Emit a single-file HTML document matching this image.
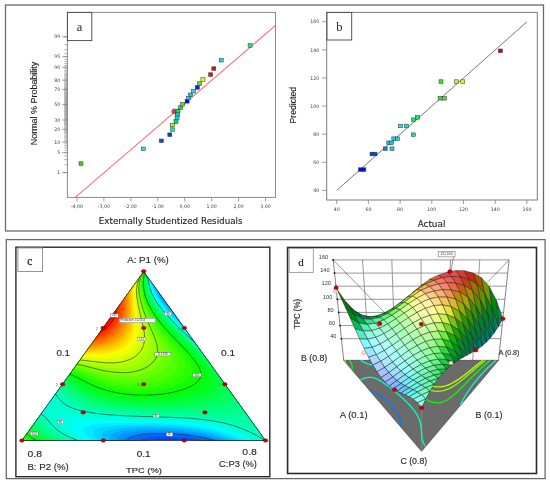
<!DOCTYPE html><html><head><meta charset="utf-8"><style>html,body{margin:0;padding:0;background:#fff;width:550px;height:485px;overflow:hidden}svg{display:block}.tk{font-family:"DejaVu Sans",sans-serif;font-size:4.7px;fill:#444}.ax{font-family:"DejaVu Sans",sans-serif;font-size:8.8px;fill:#1a1a1a;stroke:#1a1a1a;stroke-width:0.12}.axv{font-family:"Liberation Sans",Arial,sans-serif;font-size:8.4px;fill:#1a1a1a;stroke:#1a1a1a;stroke-width:0.12}.lab{font-family:"Liberation Serif","Times New Roman",serif;fill:#222}.tc{font-family:"Liberation Sans",Arial,sans-serif;font-size:9.6px;fill:#2a2a2a;stroke:#2a2a2a;stroke-width:0.15}.tiny{font-family:"Liberation Sans",Arial,sans-serif;font-size:3.2px;fill:#444}.tk5{font-family:"Liberation Sans",Arial,sans-serif;font-size:5.6px;fill:#333}.lbl{font-family:"Liberation Sans",Arial,sans-serif;font-size:2.9px;fill:#333}</style></head><body>
<svg width="550" height="485" viewBox="0 0 550 485">
<rect width="550" height="485" fill="#fff"/>
<rect x="5.5" y="5" width="538" height="226" fill="none" stroke="#6a6a6a" stroke-width="1.3"/>
<rect x="6.3" y="239.6" width="538.8" height="239" fill="none" stroke="#6a6a6a" stroke-width="1.3"/>
<rect x="67.4" y="12.4" width="208.1" height="185.0" fill="none" stroke="#8a8a8a" stroke-width="1"/>
<path d="M64.3 172.63H67.4 M64.3 164.67H67.4 M64.3 159.62H67.4 M64.3 155.82H67.4 M64.3 152.73H67.4 M64.3 150.10H67.4 M64.3 147.79H67.4 M64.3 145.73H67.4 M64.3 143.85H67.4 M64.3 142.12H67.4 M64.3 140.51H67.4 M64.3 139.01H67.4 M64.3 137.59H67.4 M64.3 136.25H67.4 M64.3 134.96H67.4 M64.3 133.74H67.4 M64.3 132.56H67.4 M64.3 131.43H67.4 M64.3 130.33H67.4 M64.3 129.28H67.4 M64.3 128.25H67.4 M64.3 127.25H67.4 M64.3 126.27H67.4 M64.3 125.32H67.4 M64.3 124.40H67.4 M64.3 123.49H67.4 M64.3 122.59H67.4 M64.3 121.72H67.4 M64.3 120.86H67.4 M64.3 120.01H67.4 M64.3 119.18H67.4 M64.3 118.36H67.4 M64.3 117.55H67.4 M64.3 116.74H67.4 M64.3 115.95H67.4 M64.3 115.17H67.4 M64.3 114.39H67.4 M64.3 113.62H67.4 M64.3 112.86H67.4 M64.3 112.10H67.4 M64.3 111.34H67.4 M64.3 110.60H67.4 M64.3 109.85H67.4 M64.3 109.11H67.4 M64.3 108.37H67.4 M64.3 107.63H67.4 M64.3 106.90H67.4 M64.3 106.16H67.4 M64.3 105.43H67.4 M64.3 104.70H67.4 M64.3 103.97H67.4 M64.3 103.24H67.4 M64.3 102.50H67.4 M64.3 101.77H67.4 M64.3 101.03H67.4 M64.3 100.29H67.4 M64.3 99.55H67.4 M64.3 98.80H67.4 M64.3 98.06H67.4 M64.3 97.30H67.4 M64.3 96.54H67.4 M64.3 95.78H67.4 M64.3 95.01H67.4 M64.3 94.23H67.4 M64.3 93.45H67.4 M64.3 92.66H67.4 M64.3 91.85H67.4 M64.3 91.04H67.4 M64.3 90.22H67.4 M64.3 89.39H67.4 M64.3 88.54H67.4 M64.3 87.68H67.4 M64.3 86.81H67.4 M64.3 85.91H67.4 M64.3 85.00H67.4 M64.3 84.08H67.4 M64.3 83.13H67.4 M64.3 82.15H67.4 M64.3 81.15H67.4 M64.3 80.12H67.4 M64.3 79.07H67.4 M64.3 77.97H67.4 M64.3 76.84H67.4 M64.3 75.66H67.4 M64.3 74.44H67.4 M64.3 73.15H67.4 M64.3 71.81H67.4 M64.3 70.39H67.4 M64.3 68.89H67.4 M64.3 67.28H67.4 M64.3 65.55H67.4 M64.3 63.67H67.4 M64.3 61.61H67.4 M64.3 59.30H67.4 M64.3 56.67H67.4 M64.3 53.58H67.4 M64.3 49.78H67.4 M64.3 44.73H67.4 M64.3 36.77H67.4" stroke="#7a7a7a" stroke-width="0.6" fill="none"/>
<path d="M62 36.77H67.4 M62 56.67H67.4 M62 67.28H67.4 M62 80.12H67.4 M62 89.39H67.4 M62 104.70H67.4 M62 120.01H67.4 M62 129.28H67.4 M62 142.12H67.4 M62 152.73H67.4 M62 172.63H67.4" stroke="#777" stroke-width="0.7" fill="none"/>
<text x="60.3" y="38.4" class="tk" text-anchor="end">99</text>
<text x="60.3" y="58.3" class="tk" text-anchor="end">95</text>
<text x="60.3" y="68.9" class="tk" text-anchor="end">90</text>
<text x="60.3" y="81.7" class="tk" text-anchor="end">80</text>
<text x="60.3" y="91.0" class="tk" text-anchor="end">70</text>
<text x="60.3" y="106.3" class="tk" text-anchor="end">50</text>
<text x="60.3" y="121.6" class="tk" text-anchor="end">30</text>
<text x="60.3" y="130.9" class="tk" text-anchor="end">20</text>
<text x="60.3" y="143.7" class="tk" text-anchor="end">10</text>
<text x="60.3" y="154.3" class="tk" text-anchor="end">5</text>
<text x="60.3" y="174.2" class="tk" text-anchor="end">1</text>
<path d="M77.0 197.4V201.4 M103.9 197.4V201.4 M130.8 197.4V201.4 M157.8 197.4V201.4 M184.7 197.4V201.4 M211.6 197.4V201.4 M238.6 197.4V201.4 M265.5 197.4V201.4" stroke="#777" stroke-width="0.7" fill="none"/>
<text x="77.0" y="208.3" class="tk" text-anchor="middle">-4,00</text>
<text x="103.9" y="208.3" class="tk" text-anchor="middle">-3,00</text>
<text x="130.8" y="208.3" class="tk" text-anchor="middle">-2,00</text>
<text x="157.8" y="208.3" class="tk" text-anchor="middle">-1,00</text>
<text x="184.7" y="208.3" class="tk" text-anchor="middle">0,00</text>
<text x="211.6" y="208.3" class="tk" text-anchor="middle">1,00</text>
<text x="238.6" y="208.3" class="tk" text-anchor="middle">2,00</text>
<text x="265.5" y="208.3" class="tk" text-anchor="middle">3,00</text>
<line x1="75.3" y1="197.4" x2="275.5" y2="25.4" stroke="#f27878" stroke-width="1.15"/>
<rect x="67.4" y="12.4" width="24.4" height="28.2" fill="#fff" stroke="#444" stroke-width="0.9"/>
<text x="79.5" y="30.8" class="lab" text-anchor="middle" style="font-size:12.5px">a</text>
<text x="170.7" y="224.3" class="ax" text-anchor="middle" textLength="143.8" lengthAdjust="spacingAndGlyphs">Externally Studentized Residuals</text>
<text transform="translate(36.8,103.5) rotate(-90)" class="axv" style="font-size:9px" text-anchor="middle" textLength="83.5" lengthAdjust="spacingAndGlyphs">Normal % Probability</text>
<circle cx="174.3" cy="111.4" r="2.5" fill="#c05050" stroke="#804040" stroke-width="0.6"/>
<rect x="79.0" y="161.8" width="4.0" height="3.6" fill="#40d020" stroke="#333" stroke-width="0.5"/>
<rect x="141.3" y="147.0" width="4.0" height="3.6" fill="#30e0d0" stroke="#333" stroke-width="0.5"/>
<rect x="159.4" y="139.0" width="4.0" height="3.6" fill="#1050e0" stroke="#333" stroke-width="0.5"/>
<rect x="167.8" y="132.9" width="4.0" height="3.6" fill="#0040e0" stroke="#333" stroke-width="0.5"/>
<rect x="170.6" y="127.8" width="4.0" height="3.6" fill="#20e0b0" stroke="#333" stroke-width="0.5"/>
<rect x="170.4" y="123.2" width="4.0" height="3.6" fill="#b0f020" stroke="#333" stroke-width="0.5"/>
<rect x="174.0" y="119.7" width="4.0" height="3.6" fill="#10d060" stroke="#333" stroke-width="0.5"/>
<rect x="175.1" y="115.7" width="4.0" height="3.6" fill="#10d0f0" stroke="#333" stroke-width="0.5"/>
<rect x="175.5" y="112.5" width="4.0" height="3.6" fill="#10c0f0" stroke="#333" stroke-width="0.5"/>
<rect x="176.0" y="109.2" width="4.0" height="3.6" fill="#10e040" stroke="#333" stroke-width="0.5"/>
<rect x="178.6" y="105.8" width="4.0" height="3.6" fill="#10e050" stroke="#333" stroke-width="0.5"/>
<rect x="180.6" y="102.5" width="4.0" height="3.6" fill="#40f020" stroke="#333" stroke-width="0.5"/>
<rect x="185.1" y="99.5" width="4.0" height="3.6" fill="#0010e0" stroke="#333" stroke-width="0.5"/>
<rect x="186.7" y="96.2" width="4.0" height="3.6" fill="#10d0f0" stroke="#333" stroke-width="0.5"/>
<rect x="188.4" y="93.0" width="4.0" height="3.6" fill="#20c0f0" stroke="#333" stroke-width="0.5"/>
<rect x="191.5" y="89.4" width="4.0" height="3.6" fill="#40d0e0" stroke="#333" stroke-width="0.5"/>
<rect x="195.3" y="85.6" width="4.0" height="3.6" fill="#1020e0" stroke="#333" stroke-width="0.5"/>
<rect x="197.6" y="81.8" width="4.0" height="3.6" fill="#60e020" stroke="#333" stroke-width="0.5"/>
<rect x="200.9" y="77.7" width="4.0" height="3.6" fill="#f0f020" stroke="#333" stroke-width="0.5"/>
<rect x="208.7" y="72.8" width="4.0" height="3.6" fill="#e01010" stroke="#333" stroke-width="0.5"/>
<rect x="211.8" y="66.8" width="4.0" height="3.6" fill="#e01010" stroke="#333" stroke-width="0.5"/>
<rect x="219.2" y="58.4" width="4.0" height="3.6" fill="#30d0e0" stroke="#333" stroke-width="0.5"/>
<rect x="248.1" y="43.7" width="4.0" height="3.6" fill="#30e080" stroke="#333" stroke-width="0.5"/>
<rect x="326.7" y="12.4" width="210.59999999999997" height="187.6" fill="none" stroke="#7a7a7a" stroke-width="1"/>
<path d="M321.7 190.4H326.7 M336.7 200V204 M321.7 162.3H326.7 M368.4 200V204 M321.7 134.2H326.7 M400.1 200V204 M321.7 106.1H326.7 M431.8 200V204 M321.7 78.0H326.7 M463.5 200V204 M321.7 49.9H326.7 M495.2 200V204 M321.7 21.8H326.7 M526.9 200V204" stroke="#777" stroke-width="0.7" fill="none"/>
<text x="319.2" y="192.0" class="tk" text-anchor="end">40</text>
<text x="336.7" y="211" class="tk" text-anchor="middle">40</text>
<text x="319.2" y="163.9" class="tk" text-anchor="end">60</text>
<text x="368.4" y="211" class="tk" text-anchor="middle">60</text>
<text x="319.2" y="135.8" class="tk" text-anchor="end">80</text>
<text x="400.1" y="211" class="tk" text-anchor="middle">80</text>
<text x="319.2" y="107.7" class="tk" text-anchor="end">100</text>
<text x="431.8" y="211" class="tk" text-anchor="middle">100</text>
<text x="319.2" y="79.6" class="tk" text-anchor="end">120</text>
<text x="463.5" y="211" class="tk" text-anchor="middle">120</text>
<text x="319.2" y="51.5" class="tk" text-anchor="end">140</text>
<text x="495.2" y="211" class="tk" text-anchor="middle">140</text>
<text x="319.2" y="23.4" class="tk" text-anchor="end">160</text>
<text x="526.9" y="211" class="tk" text-anchor="middle">160</text>
<line x1="336.7" y1="190.4" x2="526.9" y2="21.8" stroke="#555" stroke-width="0.8"/>
<rect x="327" y="12.4" width="24.7" height="27.6" fill="#fff" stroke="#444" stroke-width="0.9"/>
<text x="339.3" y="30.5" class="lab" text-anchor="middle" style="font-size:12.5px">b</text>
<text x="431.5" y="227" class="ax" text-anchor="middle" textLength="27.7" lengthAdjust="spacingAndGlyphs">Actual</text>
<text transform="translate(295.5,105.2) rotate(-90)" class="axv" text-anchor="middle" textLength="36.4" lengthAdjust="spacingAndGlyphs">Predicted</text>
<rect x="358.5" y="167.8" width="4.0" height="3.6" fill="#0010d0" stroke="#333" stroke-width="0.5"/>
<rect x="361.8" y="167.8" width="4.0" height="3.6" fill="#0010d0" stroke="#333" stroke-width="0.5"/>
<rect x="370.0" y="152.2" width="4.0" height="3.6" fill="#1040e0" stroke="#333" stroke-width="0.5"/>
<rect x="373.0" y="152.2" width="4.0" height="3.6" fill="#1040e0" stroke="#333" stroke-width="0.5"/>
<rect x="383.2" y="146.9" width="4.0" height="3.6" fill="#1080e0" stroke="#333" stroke-width="0.5"/>
<rect x="390.0" y="146.9" width="4.0" height="3.6" fill="#10d0e0" stroke="#333" stroke-width="0.5"/>
<rect x="386.8" y="141.0" width="4.0" height="3.6" fill="#10c0e0" stroke="#333" stroke-width="0.5"/>
<rect x="389.6" y="141.0" width="4.0" height="3.6" fill="#10d0e0" stroke="#333" stroke-width="0.5"/>
<rect x="391.8" y="136.9" width="4.0" height="3.6" fill="#10d0e0" stroke="#333" stroke-width="0.5"/>
<rect x="395.4" y="136.9" width="4.0" height="3.6" fill="#10d8e0" stroke="#333" stroke-width="0.5"/>
<rect x="398.5" y="124.2" width="4.0" height="3.6" fill="#20e0e0" stroke="#333" stroke-width="0.5"/>
<rect x="404.6" y="124.2" width="4.0" height="3.6" fill="#20e0c0" stroke="#333" stroke-width="0.5"/>
<rect x="411.3" y="132.9" width="4.0" height="3.6" fill="#20e080" stroke="#333" stroke-width="0.5"/>
<rect x="411.6" y="117.9" width="4.0" height="3.6" fill="#20e070" stroke="#333" stroke-width="0.5"/>
<rect x="415.5" y="115.6" width="4.0" height="3.6" fill="#20e060" stroke="#333" stroke-width="0.5"/>
<rect x="438.1" y="96.5" width="4.0" height="3.6" fill="#30e030" stroke="#333" stroke-width="0.5"/>
<rect x="442.5" y="96.5" width="4.0" height="3.6" fill="#50e030" stroke="#333" stroke-width="0.5"/>
<rect x="439.0" y="79.8" width="4.0" height="3.6" fill="#40e020" stroke="#333" stroke-width="0.5"/>
<rect x="454.4" y="79.8" width="4.0" height="3.6" fill="#c0f020" stroke="#333" stroke-width="0.5"/>
<rect x="460.8" y="79.8" width="4.0" height="3.6" fill="#f0f000" stroke="#333" stroke-width="0.5"/>
<rect x="498.4" y="49.0" width="4.0" height="3.6" fill="#e00000" stroke="#333" stroke-width="0.5"/>
<clipPath id="ctri"><polygon points="143.7,271.6 21.9,440.5 265.5,440.5"/></clipPath>
<g clip-path="url(#ctri)">
<polygon points="143.7,271.6 21.9,440.5 265.5,440.5" fill="#003aff"/>
<path d="M18.7 269.6L269.2 269.6L269.2 442.8L195.8 442.8L195.1 440.6L193.4 440.3L188.2 439.6L181.4 438.9L174.7 438.5L168.7 438.4L159 438.8L151.5 439.8L148.9 440.6L148.9 442.8L18.7 442.8L18.7 269.6Z" fill="#0050ff"/>
<path d="M18.7 269.6L269.2 269.6L269.2 442.8L205.5 442.8L204.7 440.6L195.7 438.8L188.2 437.8L180.7 437L173.2 436.5L165.7 436.4L159.7 436.5L153.7 436.9L148.4 437.6L144.4 438.4L141 439.4L138.6 440.6L138.5 442.8L18.7 442.8L18.7 269.6Z" fill="#0066ff"/>
<path d="M18.7 269.6L269.2 269.6L269.2 442.8L213.1 442.8L212.2 440.6L205.4 439L196.4 437.2L188.2 436L180 435.1L171.7 434.6L163.4 434.4L156 434.5L149.2 435L143.2 435.7L138 436.7L133.4 438.3L131.2 439.7L130.4 440.6L130.3 442.8L18.7 442.8L18.7 269.6Z" fill="#007cff"/>
<path d="M18.7 269.6L269.2 269.6L269.2 442.8L219.7 442.8L218.7 440.6L208.4 437.9L197.2 435.6L188.2 434.2L179.2 433.2L170.2 432.7L160.4 432.4L151.4 432.6L143.2 433.2L136.4 434.1L130.6 435.4L126.6 436.8L124.4 438.4L123.5 439.8L123 442.8L18.7 442.8L18.7 269.6Z" fill="#0093ff"/>
<path d="M18.7 269.6L269.2 269.6L269.2 442.8L225.6 442.8L224.6 440.6L222.4 439.8L210 436.4L198.7 434L189 432.5L179.2 431.4L168.7 430.8L157.4 430.5L147 430.7L137.2 431.4L129.7 432.4L123.3 433.8L119.6 435.4L117.6 436.9L116.7 438.4L116.6 439.1L116.8 440.6L116.4 442.8L18.7 442.8L18.7 269.6Z" fill="#00a9ff"/>
<path d="M18.7 269.6L269.2 269.6L269.2 288.8L156.7 288.8L156.5 289.1L156.7 290.4L158.2 293.6L160.4 297.5L163.4 301.9L168 307.8L172.4 313.1L177 318L178.5 319.2L269.2 319.3L269.2 442.8L231.3 442.8L230.1 440.6L228 439.8L213.7 435.5L207 433.9L200.2 432.5L189.7 430.8L178.4 429.6L166.4 428.8L154.4 428.6L142.4 428.8L131.2 429.6L122.2 430.7L118.4 431.5L115.4 432.3L111.9 433.8L110.9 434.6L109.7 436.1L109.5 436.8L109.6 438.4L110.7 440.6L110.3 442.8L18.7 442.8L18.7 269.6Z" fill="#00bfff"/>
<path d="M18.7 269.6L269.2 269.6L269.2 284.1L153.7 284.1L153 284.2L152.9 284.6L154.4 288.8L156.7 293.5L159 297.4L162 301.9L166.4 307.7L171.7 313.8L179.4 322.1L182.2 324.7L183 324.8L269.2 324.8L269.2 442.8L236.7 442.8L235.5 440.6L228 437.9L221.2 435.7L213.7 433.5L201 430.7L189.7 428.9L177.7 427.7L165 427L150.7 426.7L136.4 427L123.7 427.7L114 428.9L110.2 429.7L107.2 430.5L105 431.4L103.4 432.4L102.6 433.1L101.8 434.6L101.7 436.1L102.4 437.6L104.9 440.6L104.4 442.8L18.7 442.8L18.7 269.6Z" fill="#00d5ff"/>
<path d="M18.7 269.6L269.2 269.6L269.2 280.7L150.7 280.7L150.6 280.8L150.7 281.6L153 287.6L155.2 292.7L158.2 298.1L161.2 302.5L165.7 308.3L171.2 314.6L179.7 323.6L184.4 328.3L185.2 328.9L269.2 328.9L269.2 442.8L242 442.8L240.7 440.6L232.4 437.4L223.4 434.3L216 432.1L209.2 430.4L202.4 429L195 427.7L184.4 426.4L172.4 425.5L159.7 424.9L146.2 424.8L129 425L114.7 425.7L104.2 426.9L100.4 427.7L97.5 428.6L95.2 429.7L93.8 430.8L93.3 431.6L93 433.1L93.4 434.6L94.3 436.1L96.5 438.4L99.4 440.6L98.8 442.8L18.7 442.8L18.7 269.6Z" fill="#00ebff"/>
<path d="M18.7 269.6L269.2 269.6L269.2 277.8L148.4 277.8L148.9 278.6L152.7 289.1L154.3 292.8L156.7 297.4L160.4 303L165.4 309.4L171.4 316.1L180.1 325.1L187.4 332.2L188.2 332.5L269.2 332.5L269.2 442.8L247.4 442.8L246 440.6L245.2 440.2L236.2 436.5L227.2 433.2L220.4 431.1L213 429.1L205.4 427.4L198 426.1L185.2 424.6L171.7 423.6L156 423L137.2 422.8L116.2 423L101.2 423.6L92.2 424.6L88.4 425.5L86.2 426.3L84.7 427.2L83.5 428.6L83.1 430.1L83.5 431.6L84.3 433.1L86.4 435.4L89.3 437.6L94 440.6L93.3 442.8L18.7 442.8L18.7 269.6Z" fill="#00fffc"/>
<path d="M18.7 269.6L269.2 269.6L269.2 275.1L147 275.1L146.9 275.6L148.9 280.1L151.4 287.9L153.4 292.8L156.2 298.1L159.7 303.4L165 310.1L172.3 318.4L184.3 330.4L189 334.8L190.4 335.9L269.2 335.9L269.2 442.8L252.9 442.8L251.4 440.6L250 439.8L238.4 434.8L227.2 430.6L219.7 428.4L212.2 426.5L204.7 425L195.7 423.7L180.7 422.2L162 421.2L141.7 420.8L95.2 420.3L85.4 420.5L78.7 421.2L76.1 421.8L74.3 422.6L73.3 423.4L72.2 424.8L71.9 426.4L72.2 427.8L73 429.4L74.1 430.8L76.4 433.1L79.5 435.4L83.2 437.6L88.7 440.6L88 442.8L18.7 442.8L18.7 269.6Z" fill="#00ffe6"/>
<path d="M18.7 269.6L269.2 269.6L269.2 272.5L144.7 272.5L144.7 272.6L145.4 273.4L145.4 274.1L146.5 275.6L148.2 279.4L150.9 288.4L152.9 293.6L155.7 298.8L159.1 304.1L164.4 310.8L171.9 319.1L183.1 330.4L192 338.8L192.7 339.3L269.2 339.3L269.2 442.8L258.8 442.8L257.2 440.6L255 439.3L244.4 434.3L233.2 429.7L225.7 427.3L218.2 425.3L210.7 423.7L201.7 422.2L188.2 420.7L173.2 419.7L158.2 419.2L122.2 418.3L104.2 417.5L92.2 416.7L70.4 414.7L65.2 414.4L62.2 414.6L60.7 415L59.6 415.8L59.1 416.6L58.9 418.1L59.1 420.4L59.8 422.6L61 424.8L62.5 427.1L63.8 428.6L66.3 430.8L68.2 432.4L74.3 436.1L83.5 440.6L82.7 442.8L18.7 442.8L18.7 407.2L47.2 407.1L48.7 406.7L49.5 406.1L50.1 405.4L50.6 403.8L50.7 402.4L50.7 401.6L50.4 400.8L50.2 400.7L18.7 400.7L18.7 269.6Z" fill="#00ffd0"/>
<path d="M18.7 269.6L145.4 269.6L144.7 270.4L144.7 271.1L143.9 271.8L145.2 273.4L145.3 274.1L145.9 274.8L147.2 277.8L148.2 280.8L150.1 288.4L152.1 293.6L154.4 298.4L157.4 303.2L163.2 310.8L171 319.4L182.6 331.1L193.4 341.3L194.9 342.5L195.7 342.7L269.2 342.7L269.2 442.8L265.4 442.8L263.8 440.6L258.7 437.4L249.7 432.7L241.4 429.1L235.4 426.9L229.4 425L223.4 423.4L216.7 422L210 420.8L203.2 419.9L188.2 418.5L171 417.6L136.1 416.6L121.4 416L106.4 415L93.7 413.5L85.4 412.2L78.7 410.7L73 409.1L68.2 407.2L64.4 405.1L61.4 402.7L58.4 399.3L55.3 394.8L54.7 394.5L18.7 394.5L18.7 269.6ZM18.7 413.6L18.7 413.4L41.2 413.4L41.8 413.6L44.2 415.3L46.6 417.4L54.5 426.4L56.8 428.6L59.5 430.8L62.8 433.1L66.8 435.4L78.4 440.6L77.5 442.8L18.7 442.8L18.7 413.6Z" fill="#00ffba"/>
<path d="M18.7 269.6L145.4 269.6L144.6 270.4L144.6 271.1L143.9 271.8L145 273.4L147 277.8L147.8 280.8L149 286.8L150.1 290.6L151.4 294.1L153 297.3L154.6 300.4L157 304.1L162.7 311.6L171 320.8L182.9 332.6L197.2 345.9L198 346.3L198.7 346.3L269.2 346.3L269.2 428.1L256.4 428L239.2 423.2L229.4 420.9L219 419L206.2 417.4L195.7 416.6L184.4 416L142.4 414.7L127.4 414.1L113.2 413L100.4 411.5L92.2 410.1L85.4 408.5L79.4 406.7L74.2 404.6L69.7 402.1L65.9 399.4L62.7 396.4L57.7 391L18.7 390.9L18.7 269.6ZM18.7 417.4L18.7 416.9L38.9 417L41.9 419.6L50 427.8L54.7 431.6L58.3 433.8L62.7 436.1L73.4 440.6L72.4 442.8L18.7 442.8L18.7 417.4Z" fill="#00ffa3"/>
<path d="M18.7 269.6L145.3 269.6L144.6 270.4L144.6 271.1L143.8 271.8L144.5 272.6L144.9 273.4L146.7 277.8L148.2 286.1L149.3 290.6L150.7 294.3L152.2 297.6L154.1 301.1L156.7 305.3L159.7 309.4L162.7 313.1L171 322.2L183.1 334.1L200.2 350L201 350.1L269.2 350.1L269.2 415L247.4 415L244.4 415.7L242.2 416.1L236.2 416.2L212.2 414.6L198.7 413.9L152.2 412.9L138 412.4L126 411.8L115.4 410.8L105.7 409.6L96.7 408L88.4 405.9L81.7 403.6L76.4 401.2L71.2 398L66.7 394.5L59.9 388.2L59.6 388.1L18.7 388L18.7 269.6ZM18.7 420.4L18.7 419.7L36.7 419.7L37.6 420.4L45.8 428.6L50.6 432.4L54.4 434.6L57.4 436.1L68.4 440.6L67.4 442.8L18.7 442.8L18.7 420.4Z" fill="#00ff8d"/>
<path d="M18.7 269.6L145.3 269.6L144.5 270.4L144.5 271.1L143.8 271.8L144.4 272.6L146.2 277.1L147.5 286.1L148.6 290.6L149.9 294.4L151.5 298.1L153.7 302.2L156.3 306.4L159.1 310.1L162.7 314.6L166.7 319.1L171.7 324.4L184.4 336.8L203.2 354.1L204 354.5L269.2 354.5L269.2 406L240.7 406L236.2 408L231 409.3L223.4 410.2L213.7 410.6L185.2 410.9L159 410.8L141 410.4L126 409.5L114.7 408.3L104.2 406.7L95.1 404.6L86.9 402L80.8 399.4L74.9 396.1L70.4 392.9L61.4 385.6L18.7 385.5L18.7 269.6ZM18.7 422.6L18.7 422.1L34.4 422.1L35.2 422.3L42.2 429.4L47 433.1L50.9 435.4L54 436.8L63.5 440.6L62.4 442.8L18.7 442.8L18.7 422.6Z" fill="#00ff77"/>
<path d="M18.7 269.6L145.2 269.6L144.5 270.4L144.5 271.1L143.7 271.8L144.4 272.6L145.5 275.6L145.9 277.1L146.9 286.1L148 291.4L149.3 295.1L151.3 299.6L153.7 304L156.2 307.8L159.5 312.4L162.7 316.2L171.7 325.9L183.7 337.6L207 359.3L207.7 359.7L269.2 359.7L269.2 397.7L234.7 397.7L232.4 399.9L230.2 401.3L227.2 402.8L224 403.8L219.7 404.9L215.2 405.8L209.2 406.5L202.4 407.2L186.7 408L168 408.5L150.7 408.4L135.7 407.8L123 406.8L111.7 405.3L101.9 403.4L92.9 400.8L86.2 398.3L79.4 394.8L74.2 391.5L64.7 384.4L62.9 383.3L18.7 383.3L18.7 269.6ZM18.7 424.8L18.7 424.4L32.9 424.4L33.7 424.6L39.1 430.1L41.7 432.4L43.8 433.8L49.3 436.8L58.7 440.6L57.5 442.8L18.7 442.8L18.7 424.8Z" fill="#00ff61"/>
<path d="M18.7 269.6L145.2 269.6L144.4 270.4L144.4 271.1L143.7 271.8L144.3 272.6L145.5 276.4L146.1 285.4L147.2 291.4L148.7 295.8L150.7 300.4L153.1 304.8L156 309.2L162 317L170.2 326L178.5 334.2L201.9 356.6L211.4 366L213 367.2L213.7 367.3L269.2 367.3L269.2 387.7L228 387.7L227.7 388.1L227.3 391.1L226.7 392.6L225.7 394.1L223.4 396.1L220.6 397.8L217.2 399.4L213 400.8L208.4 401.9L202.4 403L196.6 403.8L181.4 405.2L163.4 406L146.2 405.9L132 405.2L119.2 403.9L108 402L98.2 399.5L90.7 396.8L83.2 393.3L77.2 389.7L67.2 382.8L64.4 381.2L18.7 381.2L18.7 269.6ZM18.7 427.1L18.7 426.4L31.4 426.4L32.2 426.6L36.7 431.3L40.9 434.6L43.4 436.1L46.4 437.6L53.9 440.6L52.7 442.8L18.7 442.8L18.7 427.1Z" fill="#00ff4a"/>
<path d="M18.7 269.6L145.1 269.6L144.4 270.4L144.4 271.1L143.6 271.8L144.2 272.6L144.8 274.1L145.2 276.4L145.3 283.8L146.1 289.8L147.1 293.6L148.7 298.1L150.8 302.6L153.4 307.1L156 311L159.2 315.4L162.7 319.6L167.2 324.6L175.4 333L200.5 357.4L207.7 364.8L212.9 370.8L217.3 376.8L218.5 379.1L219.5 381.4L220.1 383.6L220.2 385.1L219.8 387.4L219.2 388.8L217.4 391.1L215.7 392.6L213.3 394.1L210.2 395.6L206.3 397.1L202.4 398.3L193.4 400.3L181.4 402L168 403.1L153.7 403.5L139.4 403.2L127.9 402.4L117 400.9L107.2 399L98.9 396.7L92.2 394.2L85.4 391.1L80.2 388.1L69.6 381.4L65.9 379.3L18.7 379.2L18.7 269.6ZM18.7 428.6L18.7 428.4L30.7 428.5L34.4 432.4L38.2 435.4L42.7 437.9L49.2 440.6L47.9 442.8L18.7 442.8L18.7 428.6Z" fill="#00ff34"/>
<path d="M18.7 269.6L145.1 269.6L144.4 270.4L144.4 271.1L143.6 271.8L144.2 272.6L144.7 274.3L144.9 275.6L144.5 283.1L145.2 289.1L146 292.8L147.5 297.4L149.4 301.8L151.7 306.4L154.4 310.8L157.4 315L161.2 319.8L165 324.1L173.2 332.7L196.5 355.8L202.7 362.6L207.1 367.8L209.2 370.8L211.1 373.8L212.2 376.1L212.9 378.4L213.3 380.6L213.3 382.1L213 383.6L212.2 385.3L210.7 387.3L209.1 388.8L206.9 390.4L204 392L200.8 393.4L196.6 394.8L187.4 397.2L177 399L165 400.2L152.2 400.7L140.2 400.6L129.7 399.9L119.2 398.6L109.4 396.7L101.2 394.4L94.4 392L87.7 388.9L82.4 386.1L72 379.8L67.4 377.4L18.7 377.4L18.7 269.6ZM18.7 430.8L18.7 430.3L29.2 430.3L32.7 433.8L35.6 436.1L39.5 438.4L44.6 440.6L43.3 442.8L18.7 442.8L18.7 430.8Z" fill="#00ff1e"/>
<path d="M18.7 269.6L145.1 269.6L144.3 270.4L144.3 271.1L143.6 271.8L144.1 272.6L144.5 274.8L143.9 281.6L143.9 284.6L144.3 288.4L145.2 292.8L146.5 297.4L148.3 301.8L150.5 306.4L153 310.5L156 315L159.7 320L163.4 324.4L171 332.6L191.6 353.6L197 359.6L201.2 364.8L204.5 370.1L205.6 372.4L206.3 374.6L206.7 376.8L206.6 378.4L206.2 380.3L205.4 382.1L204 384L201.9 385.8L199.7 387.4L197 388.8L193.7 390.4L189.7 391.8L181.8 394.1L172.4 395.9L162 397.2L150.7 397.8L139.4 397.7L129.7 397.1L120 395.9L111.7 394.3L103.4 392.1L96.7 389.7L89.9 386.8L84.7 384.1L72.9 377.6L68.9 375.7L18.7 375.6L18.7 269.6ZM18.7 432.4L18.7 432.1L27.7 432.1L31.1 435.4L33.1 436.8L35.9 438.6L40.2 440.6L38.8 442.8L18.7 442.8L18.7 432.4Z" fill="#00ff08"/>
<path d="M18.7 269.6L145 269.6L144.3 270.4L144.3 271.1L143.5 271.8L144 272.6L144.2 274.1L143.2 280.8L143.2 283.8L143.4 287.6L144.2 292.1L145.3 296.6L146.9 301.1L149 305.6L151.4 310.2L154.2 314.6L157.4 319.2L161.2 324L168.7 332.6L187.9 352.8L192.3 358.1L195.6 362.6L198.3 367.1L199.2 369.4L199.8 371.6L200 373.8L199.9 375.4L199.5 376.8L198.7 378.6L197.2 380.6L195.7 382.1L193.7 383.6L191.2 385.2L184.9 388.1L177 390.7L168.6 392.6L159 394L149.2 394.7L139.4 394.7L130.4 394.2L122.2 393.3L113.9 391.8L105.7 389.7L98.9 387.4L92.9 385L87.7 382.5L75.1 376.1L69.7 373.8L18.7 373.8L18.7 269.6ZM18.7 434.6L18.7 433.9L26.2 433.9L26.9 434.3L28.8 436.1L30.7 437.6L35.9 440.6L34.4 442.8L18.7 442.8L18.7 434.6Z" fill="#0eff00"/>
<path d="M18.7 269.6L145 269.6L144.2 270.4L144.2 271.1L143.5 271.8L144 272.6L144 273.8L143.2 275.9L142.7 279.4L142.5 282.4L142.5 286.1L143 290.6L144 295.1L145.4 299.9L147.4 304.8L149.6 309.4L152.2 313.9L155.2 318.5L159 323.7L166.4 332.8L183.1 351.4L186.7 355.8L189.3 359.6L191.7 364.1L192.6 366.4L193.1 368.6L193.1 370.8L192.9 372.4L192.5 373.8L191.7 375.4L190.4 377.1L188.4 379.1L184 382.1L177.8 385.1L171.3 387.4L164.2 389.1L156 390.5L147 391.3L138 391.4L129.7 391L122.2 390.2L114.7 388.8L107.2 387L101.2 385.1L95.2 382.8L77.3 374.6L71.2 372.2L18.7 372.1L18.7 269.6ZM18.7 436.1L18.7 435.7L24.7 435.7L25.4 435.9L28.2 438.4L31.7 440.6L30.2 442.8L18.7 442.8L18.7 436.1Z" fill="#25ff00"/>
<path d="M18.7 269.6L144.9 269.6L144.2 270.4L144.2 271.1L143.4 271.8L143.9 272.6L143.2 273.9L142.4 277.1L141.9 280.8L141.7 284.6L142 289.1L142.7 293.6L143.9 298.1L145.4 302.8L147.6 307.8L150 312.5L153 317.7L156 322.3L162.7 331.3L177.9 349.8L180.6 353.6L183 357.4L185.1 361.8L185.9 365.6L185.8 367.8L185.5 369.4L185 370.8L184.2 372.4L183 373.8L181.6 375.4L177.7 378.4L172 381.4L165.7 383.8L159 385.6L151.4 387L144 387.7L135.7 387.9L128.2 387.5L121.4 386.8L114.7 385.6L108 384L102.7 382.4L96.7 380.3L79.5 373.1L72.7 370.6L18.7 370.5L18.7 269.6ZM18.7 437.6L23.9 437.6L27.7 440.6L26.1 442.8L18.7 442.8L18.7 437.6Z" fill="#3bff00"/>
<path d="M18.7 269.6L144.9 269.6L144.1 270.4L144.1 271.1L143.4 271.8L143.7 272.6L143.1 273.4L141.7 278.6L141.1 283.8L141.1 287.6L141.6 292.1L142.5 296.6L143.7 301.1L145.4 305.8L147.6 310.8L150 315.4L153 320.6L159 329.7L172 347.6L174.4 351.4L176 354.4L177.5 358.1L178.3 361.8L178.3 364.1L178 365.6L176.7 368.6L174.4 371.6L170.8 374.6L165.7 377.6L160.5 379.8L154.4 381.7L148.4 383L141.7 383.8L134.2 384.1L128.2 384L121.4 383.4L114.7 382.3L108.7 381L98.9 378L79.8 370.8L73.4 368.8L18.7 368.8L18.7 269.6ZM18.7 439.8L18.7 439.4L22.4 439.5L23.8 440.6L22.2 442.8L18.7 442.8L18.7 439.8Z" fill="#51ff00"/>
<path d="M18.7 269.6L144.8 269.6L144.1 270.4L144.1 271.1L143.3 271.8L143.5 272.6L143 273.4L141.7 277.1L140.9 280.1L140.5 283.1L140.3 286.1L140.5 289.8L141 293.7L141.9 298.1L143.1 302.6L144.7 307.1L146.9 312.4L149.2 317.2L154.4 326.6L165.6 344.6L167.6 348.4L169 351.4L170.2 355.1L170.6 358.8L170.4 361.1L170.1 362.6L168.7 365.6L166.3 368.6L162.7 371.6L159 373.9L154.2 376.1L149.2 377.8L143.2 379.1L137.2 379.9L131.2 380.2L126 380.1L120 379.6L114.7 378.9L108.7 377.7L99.7 375.2L82.2 369.4L74.9 367.3L18.7 367.2L18.7 269.6Z" fill="#67ff00"/>
<path d="M18.7 269.6L144.8 269.6L144 270.4L144 271.1L143.3 271.8L143.3 272.6L142.8 273.4L141.1 277.8L139.9 282.4L139.6 285.4L139.6 288.4L140.3 295.1L141 298.8L142.2 303.4L143.7 307.8L145.7 313.1L150 322.4L159.1 340.1L160.7 343.8L162.1 347.6L163.2 352.1L163.3 355.8L162.9 358.1L162.5 359.6L160.9 362.6L158.5 365.6L155.9 367.8L152.2 370.3L147.9 372.4L143.2 373.9L138 375.2L132.7 375.9L127.4 376.2L123 376.1L117.7 375.7L113.2 375.2L108 374.2L100.4 372.5L82.4 367.2L75.7 365.6L18.7 365.6L18.7 269.6Z" fill="#7eff00"/>
<path d="M18.7 269.6L144.7 269.6L144 270.4L144 271.1L143.2 271.8L143.2 272.5L142.7 273.4L140.7 277.8L139.5 281.6L139.1 283.8L138.8 286.8L139 292.8L139.5 296.6L140.4 301.1L142.8 309.4L146.2 318.5L153.7 336.4L155.1 340.1L156.1 343.8L156.8 348.4L156.7 352.6L156.4 354.4L155.6 356.6L153.9 359.6L151.4 362.5L148.7 364.8L145.4 366.9L142 368.6L138 370L133.4 371.1L129 371.8L123.7 372.2L115.4 371.9L106.4 370.7L99.7 369.4L84.6 365.6L77.2 364L18.7 364L18.7 269.6Z" fill="#94ff00"/>
<path d="M18.7 272.6L18.7 272.2L142.4 272.2L142.4 273.5L141.9 274.1L141.8 274.8L140 278.6L138.6 283.1L138 287.6L138 292.1L138.9 298.8L140.8 307.1L143.2 315.1L148.9 331.8L150.2 336.4L151 340.1L151.4 344.6L151.2 348.4L150.3 352.1L148.4 355.7L146.6 358.1L144 360.7L141 362.8L137.2 364.7L133.4 366.2L129.7 367.2L125.2 367.9L120.7 368.3L113.2 368.3L105.7 367.5L98.2 366.3L83.2 363.2L77.9 362.4L18.7 362.4L18.7 272.6Z" fill="#aaff00"/>
<path d="M140.8 275.6L141 275.6L140.8 275.6ZM18.7 276.4L18.7 275.9L140.2 275.9L140.3 277.1L138.4 281.6L137.5 285.4L137.1 289.1L137.1 292.9L137.7 298.1L138.9 304.8L140.5 311.6L145.1 328.1L146.1 332.6L146.7 336.4L146.9 340.8L146.6 344.6L145.6 348.4L144 351.7L142.1 354.4L139.4 357L136.4 359.2L133.4 360.9L129.7 362.4L126 363.5L122.2 364.2L117.7 364.7L111 364.8L104.2 364.4L79.4 360.8L18.7 360.8L18.7 276.4Z" fill="#c0ff00"/>
<path d="M18.7 279.4L18.7 278.8L138 278.8L138.4 279.4L136.9 284.6L136.3 288.4L136.2 292.1L136.4 295.8L136.9 300.4L137.8 305.6L142.1 325.8L142.8 330.4L143.1 334.1L143 337.8L142.5 341.6L141.7 344.6L140.2 347.8L138.3 350.6L136.3 352.8L133.6 355.1L130.4 357.1L126.7 358.8L123 360L119.2 360.8L114.7 361.4L108.7 361.7L102.7 361.4L80.2 359.2L18.7 359.2L18.7 279.4Z" fill="#d6ff00"/>
<path d="M18.7 281.6L18.7 281.3L136.4 281.3L136.7 281.6L136.6 282.4L135.6 286.8L135.3 289.8L135.2 292.8L135.3 296.6L136.3 304.9L139.2 322.1L139.7 326.6L139.9 330.4L139.8 334.1L139.3 337.8L138.5 340.8L137.2 343.8L135.3 346.8L133.4 349.1L131 351.4L127.7 353.6L124.4 355.2L120.7 356.6L117 357.6L112.4 358.3L108 358.7L103.4 358.8L96.7 358.5L81.7 357.6L18.7 357.5L18.7 281.6Z" fill="#edff00"/>
<path d="M18.7 283.8L18.7 283.6L135 283.7L135.1 284.6L134.5 288.4L134.2 291.4L134.2 296.6L134.8 303.4L136.8 319.1L137.2 326.6L137.1 330.4L136.5 334.1L135.8 337.1L134.6 340.1L132.9 343.1L130.5 346.1L128.1 348.3L125.2 350.4L122.1 352.1L118.4 353.6L114 354.8L109.4 355.6L104.2 356.1L98.9 356.2L82.4 355.9L18.7 355.9L18.7 283.8Z" fill="#fffb00"/>
<path d="M18.7 286.1L18.7 285.8L132.7 285.8L133.4 286L133.5 286.8L133.1 292.8L133.1 296.6L134.7 316.1L134.9 323.6L134.6 327.4L134 331.1L133.2 334.1L132.1 337.1L130.4 340.1L128.2 343L125.8 345.4L122.8 347.6L119.2 349.6L115.4 351.1L111.7 352.2L107.2 353.1L98.9 353.9L84.7 354.2L18.7 354.2L18.7 286.1Z" fill="#ffe500"/>
<path d="M18.7 288.4L18.7 288L131.2 288L132 288.3L132 289.1L131.9 297.4L132.7 312.4L132.8 318.4L132.6 322.8L132.2 326.6L131.5 329.6L130.4 332.8L128.8 336.4L126.8 339.4L124 342.4L121.2 344.6L117.7 346.7L114 348.4L109.4 349.8L105 350.8L97.4 351.7L85.4 352.5L18.7 352.5L18.7 288.4Z" fill="#ffcf00"/>
<path d="M18.7 290.6L18.7 290.1L129.7 290.1L130.4 290.5L130.6 291.4L131 314.6L130.4 322.3L129.8 325.8L128.9 328.8L127.4 332.6L125.2 336.2L123 338.9L120 341.6L116.2 344.1L112.4 345.9L108 347.5L102.7 348.7L95.9 349.8L86.2 350.7L18.7 350.7L18.7 290.6Z" fill="#ffb800"/>
<path d="M18.7 292.8L18.7 292.3L128.2 292.3L129 292.8L129.1 294.4L129.4 310.8L128.9 318.4L128.3 322.1L127.5 325.1L126.1 328.8L124.2 332.6L121.4 336.2L118.4 339L114.8 341.6L111 343.6L106.4 345.3L101.2 346.7L95.2 347.8L87.7 348.8L18.7 348.8L18.7 292.8Z" fill="#ffa200"/>
<path d="M18.7 295.1L18.7 294.4L126.7 294.4L127.4 295.1L127.6 296.6L127.9 305.6L127.5 313.8L126.4 320.6L125 325.1L123 329.5L120.7 332.8L117.7 336L114 339L110.2 341.1L105.6 343.1L99.7 344.9L94.4 346L89.2 346.9L18.7 346.9L18.7 295.1Z" fill="#ff8c00"/>
<path d="M18.7 297.4L18.7 296.7L125.2 296.7L125.8 297.4L126 298.1L126.3 303.4L126.1 309.4L125.4 315.4L124.2 320.6L122.5 325.1L120 329.5L117 333.1L113.2 336.4L108.7 339.2L104.2 341.2L98.3 343.1L90.7 344.9L18.7 344.9L18.7 297.4Z" fill="#ff7600"/>
<path d="M18.7 299.6L18.7 299L123.7 299.1L124.1 299.6L124.2 300.4L124.5 302.6L124.3 309.4L123.4 315.4L121.9 320.6L119.8 325.1L118.4 327.4L116.8 329.6L113.2 333.2L108.9 336.4L104.2 338.8L98.2 341L92.2 342.7L18.7 342.7L18.7 299.6Z" fill="#ff6000"/>
<path d="M18.7 301.8L18.7 301.6L121.4 301.6L122.1 301.8L122.3 302.6L122.6 304.8L122.5 307.8L121.7 313.8L120.1 319.1L119.2 321.4L117.7 324.2L114.7 328.3L111 332L106.4 335.1L101 337.8L94.4 340.2L18.7 340.3L18.7 301.8Z" fill="#ff4900"/>
<path d="M18.7 304.8L18.7 304.4L119.2 304.4L120 304.5L120.2 304.8L120.4 307.8L119.8 312.4L118.4 317.6L116.2 322.2L113.2 326.5L109.4 330.2L105.7 333L100.9 335.6L95.9 337.7L18.7 337.7L18.7 304.8Z" fill="#ff3300"/>
<path d="M18.7 307.8L18.7 307.6L117 307.6L117.8 307.8L117.8 309.4L117.3 313.1L116.2 316.9L114.4 320.6L111.9 324.4L109.2 327.4L105.7 330.2L101.9 332.7L98.2 334.5L18.7 334.6L18.7 307.8Z" fill="#ff1d00"/>
<path d="M18.7 312.4L18.7 311.6L114 311.6L114.7 311.9L114.8 312.4L114.3 314.6L113.2 317.6L111.7 320.4L110 322.8L108 325.2L105 327.9L101.9 330.1L101.2 330.5L100.4 330.6L18.7 330.6L18.7 312.4Z" fill="#ff0700"/>
<path d="M216 442.8L215.1 440.6L207 438.5L196.4 436.4L188.2 435.2L179.2 434.3L171 433.7L162 433.5L153.7 433.7L146.2 434.2L140.2 435L134.8 436.1L130.6 437.6L128.3 439.1L127.2 440.6L127 442.8" fill="none" stroke="#1a1a1a" stroke-width="0.55"/>
<path d="M145.4 269.6L144.7 270.4L144.7 271.1L143.9 271.8L145.2 273.4L145.3 274.1L145.9 274.8L147.2 277.8L148.2 280.8L150 288.4L151.9 293.6L154.4 298.6L157.4 303.4L163.1 310.8L171 319.6L182.2 330.9L195 342.8L195.7 343.2L196.4 343.2L269.2 343.2M18.7 414L40.4 414L41.2 414.1L43.6 415.8L45.7 417.7L53.5 426.4L55.8 428.6L58.6 430.8L61.9 433.1L65.9 435.4L77.7 440.6L76.8 442.8M266.6 442.8L265 440.6L261 437.9L254.2 434.1L246.7 430.6L239.2 427.6L232.4 425.3L225.7 423.4L218.2 421.8L205.4 419.8L189.7 418.2L172.4 417.4L137.2 416.3L123 415.7L108 414.7L95.2 413.3L86.9 411.9L79.4 410.3L73.4 408.5L68.9 406.6L65.2 404.5L62.2 402.1L59.2 398.9L55.4 393.9L18.7 393.9" fill="none" stroke="#1a1a1a" stroke-width="0.55"/>
<path d="M145 269.6L144.3 270.4L144.3 271.1L143.5 271.8L144.1 272.6L144.2 274.8L143.6 277.8L143.3 280.8L143.4 286.8L144 290.6L145 295.1L146.5 299.6L148.1 303.4L150.3 307.8L153.4 313.1L156.7 317.9L160.4 322.8L168.7 332.2L189 353.6L194 359.6L197.7 364.8L199.3 367.8L200.4 370.8L200.9 373.1L200.9 375.4L200.4 377.6L199.6 379.1L198 381.3L196.3 382.8L194.2 384.4L191.7 385.8L186 388.5L179.2 390.7L171.6 392.6L162.7 394L154.4 394.8L144.7 395.2L135.7 395L127.4 394.3L119.2 393.2L111.7 391.7L104.1 389.6L98.2 387.6L92.2 385.1L74.3 376.1L69.7 374.1L18.7 374.1M18.7 433.7L26.2 433.7L26.9 433.8L29.2 436.1L31.1 437.6L36.4 440.6L35 442.8" fill="none" stroke="#1a1a1a" stroke-width="0.55"/>
<path d="M144.7 269.6L144 270.4L144 271.1L143.2 271.8L143.2 272.6L142.7 273.4L140.5 278.6L139.4 282.4L139 285.4L138.9 288.4L139 292.1L139.5 295.8L141 302.6L143 309.4L146.2 317.9L152.9 333.4L155 338.6L156.9 344.6L157.6 349.1L157.6 351.4L157.4 353.6L156.8 355.8L156 358L155 359.6L153.3 361.8L150 365L147.7 366.5L144.7 368.2L141.7 369.5L138 370.7L134.2 371.6L130.4 372.2L126.7 372.6L122.2 372.7L114 372.2L105.7 371L98.2 369.4L83.5 365.6L77.2 364.3L18.7 364.2" fill="none" stroke="#1a1a1a" stroke-width="0.55"/>
<path d="M18.7 277.6L139.4 277.6L137.6 283.1L136.9 286.1L136.5 290.6L136.7 295.1L137.4 300.4L138.3 305.6L143.7 328.8L144.4 333.4L144.6 337.8L144.2 342.4L143.7 344.6L143 346.8L141 350.6L138.6 353.6L135.1 356.6L131.2 358.9L126 360.9L120.7 362.2L114 362.9L105.7 362.8L98.9 362.2L84.5 360.4L79.4 359.9L18.7 359.9" fill="none" stroke="#1a1a1a" stroke-width="0.55"/>
<path d="M18.7 310L115.4 310L116 310.8L115.5 313.8L114.5 316.8L113.1 319.8L111 323.1L108.7 325.7L106.1 328.1L102.7 330.6L100.4 331.9L99.7 332.2L18.7 332.2" fill="none" stroke="#1a1a1a" stroke-width="0.55"/>
</g>
<polygon points="143.7,271.6 21.9,440.5 265.5,440.5" fill="none" stroke="#222" stroke-width="0.8"/>
<ellipse cx="143.7" cy="271.3" rx="2.3" ry="1.7" fill="#c80000" stroke="#7a0000" stroke-width="0.5"/>
<ellipse cx="103.1" cy="327.9" rx="2.3" ry="1.7" fill="#c80000" stroke="#7a0000" stroke-width="0.5"/>
<ellipse cx="143.7" cy="327.9" rx="2.3" ry="1.7" fill="#c80000" stroke="#7a0000" stroke-width="0.5"/>
<ellipse cx="184.4" cy="327.9" rx="2.3" ry="1.7" fill="#c80000" stroke="#7a0000" stroke-width="0.5"/>
<ellipse cx="62.6" cy="384.2" rx="2.3" ry="1.7" fill="#c80000" stroke="#7a0000" stroke-width="0.5"/>
<ellipse cx="143.7" cy="384.2" rx="2.3" ry="1.7" fill="#c80000" stroke="#7a0000" stroke-width="0.5"/>
<ellipse cx="224.8" cy="384.2" rx="2.3" ry="1.7" fill="#c80000" stroke="#7a0000" stroke-width="0.5"/>
<ellipse cx="83.2" cy="412.4" rx="2.3" ry="1.7" fill="#c80000" stroke="#7a0000" stroke-width="0.5"/>
<ellipse cx="204.9" cy="412.4" rx="2.3" ry="1.7" fill="#c80000" stroke="#7a0000" stroke-width="0.5"/>
<ellipse cx="21.9" cy="440.5" rx="2.3" ry="1.7" fill="#c80000" stroke="#7a0000" stroke-width="0.5"/>
<ellipse cx="103.2" cy="440.5" rx="2.3" ry="1.7" fill="#c80000" stroke="#7a0000" stroke-width="0.5"/>
<ellipse cx="184.3" cy="440.5" rx="2.3" ry="1.7" fill="#c80000" stroke="#7a0000" stroke-width="0.5"/>
<ellipse cx="265.5" cy="440.5" rx="2.3" ry="1.7" fill="#c80000" stroke="#7a0000" stroke-width="0.5"/>
<text x="97" y="329.5" class="tiny" text-anchor="middle">2</text>
<text x="57" y="385.8" class="tiny" text-anchor="middle">2</text>
<text x="138.5" y="385.8" class="tiny" text-anchor="middle">2</text>
<text x="219.5" y="385.8" class="tiny" text-anchor="middle">2</text>
<text x="178.8" y="329.5" class="tiny" text-anchor="middle">2</text>
<rect x="110.3" y="313.8" width="8" height="3.4" fill="#fff" stroke="#666" stroke-width="0.4"/>
<text x="114.3" y="316.4" class="lbl" text-anchor="middle">140</text>
<rect x="137.2" y="337.4" width="8.4" height="3.4" fill="#fff" stroke="#666" stroke-width="0.4"/>
<text x="141.4" y="340.0" class="lbl" text-anchor="middle">120</text>
<rect x="154.8" y="352.5" width="16" height="3.4" fill="#fff" stroke="#666" stroke-width="0.4"/>
<text x="162.8" y="355.1" class="lbl" text-anchor="middle">113.826</text>
<rect x="192.7" y="373.2" width="8.6" height="3.4" fill="#fff" stroke="#666" stroke-width="0.4"/>
<text x="197" y="375.8" class="lbl" text-anchor="middle">100</text>
<rect x="164.6" y="312.1" width="6.9" height="3.4" fill="#fff" stroke="#666" stroke-width="0.4"/>
<text x="168" y="314.7" class="lbl" text-anchor="middle">80</text>
<rect x="153.2" y="414.3" width="6" height="3.4" fill="#fff" stroke="#666" stroke-width="0.4"/>
<text x="156.2" y="416.9" class="lbl" text-anchor="middle">80</text>
<rect x="57.6" y="420.2" width="5.9" height="3.4" fill="#fff" stroke="#666" stroke-width="0.4"/>
<text x="60.6" y="422.8" class="lbl" text-anchor="middle">80</text>
<rect x="166.3" y="432.7" width="6.5" height="3.4" fill="#fff" stroke="#666" stroke-width="0.4"/>
<text x="169.6" y="435.3" class="lbl" text-anchor="middle">60</text>
<rect x="30.4" y="432.0" width="7.8" height="3.4" fill="#fff" stroke="#666" stroke-width="0.4"/>
<text x="34.3" y="434.6" class="lbl" text-anchor="middle">100</text>
<line x1="119.2" y1="322.5" x2="119.2" y2="331.3" stroke="#888" stroke-width="0.6"/>
<rect x="119.2" y="318.2" width="36.2" height="4.4" fill="#fff" stroke="#666" stroke-width="0.4"/>
<text x="120.5" y="321.4" class="lbl">Prediction:  152.653</text>
<rect x="15.9" y="247.2" width="253.9" height="229.5" fill="none" stroke="#2a2a2a" stroke-width="1.4"/>
<rect x="17.9" y="247.9" width="24.7" height="23.6" fill="#fff" stroke="#888" stroke-width="0.9"/>
<text x="29.9" y="264.6" class="lab" text-anchor="middle" style="font-size:11.5px;stroke:#222;stroke-width:0.25">c</text>
<text x="148" y="263.2" class="tc" text-anchor="middle" textLength="41.7" lengthAdjust="spacingAndGlyphs">A: P1 (%)</text>
<text x="63.2" y="355.6" class="tc" text-anchor="middle" textLength="13.6" lengthAdjust="spacingAndGlyphs">0.1</text>
<text x="228.1" y="355.8" class="tc" text-anchor="middle" textLength="14.2" lengthAdjust="spacingAndGlyphs">0.1</text>
<text x="34.7" y="457" class="tc" text-anchor="middle" textLength="14.5" lengthAdjust="spacingAndGlyphs">0.8</text>
<text x="48.1" y="469.7" class="tc" text-anchor="middle" textLength="41.3" lengthAdjust="spacingAndGlyphs">B: P2 (%)</text>
<text x="143.7" y="456.5" class="tc" text-anchor="middle" textLength="13.9" lengthAdjust="spacingAndGlyphs">0.1</text>
<text x="249.6" y="455" class="tc" text-anchor="middle" textLength="14.5" lengthAdjust="spacingAndGlyphs">0.8</text>
<text x="238" y="466.8" class="tc" text-anchor="middle" textLength="37.8" lengthAdjust="spacingAndGlyphs">C:P3 (%)</text>
<text x="143.9" y="473.1" class="tc" style="font-size:8px" text-anchor="middle" textLength="35.8" lengthAdjust="spacingAndGlyphs">TPC (%)</text>
<rect x="287.6" y="247.5" width="248.9" height="226" fill="none" stroke="#2a2a2a" stroke-width="1.6"/>
<rect x="289.2" y="248.4" width="24.1" height="24" fill="#fff" stroke="#999" stroke-width="0.9"/>
<text x="301" y="265.5" class="lab" text-anchor="middle" style="font-size:11px;stroke:#222;stroke-width:0.15">d</text>
<path d="M341.4 338.7L500.8 338.7M340.1 325.6L502.2 325.6M338.7 312.4L503.5 312.5M337.3 299.3L504.9 299.3M335.9 286.2L506.3 286.2M334.5 273.1L507.7 273.1M333.2 259.9L509.1 259.9M362.5 259.6L369.5 360.3M391.8 259.4L395.3 360.3M421.1 259.4L421.1 360.3M450.5 259.4L446.9 360.3M479.8 259.6L472.7 360.3" stroke="#8c8c8c" stroke-width="0.9" fill="none"/>
<path d="M333.2 259.9L421.7 350.4L509.1 259.9" stroke="#555" stroke-width="0.6" fill="none"/>
<line x1="333.2" y1="259.9" x2="343.7" y2="360.3" stroke="#666" stroke-width="0.8"/>
<line x1="509.1" y1="259.9" x2="498.5" y2="360.3" stroke="#666" stroke-width="0.8"/>
<rect x="340.6" y="337.9" width="1.6" height="1.6" fill="#111"/>
<text x="336.4" y="337.9" class="tk5" text-anchor="end">40</text>
<rect x="339.3" y="324.8" width="1.6" height="1.6" fill="#111"/>
<text x="335.1" y="324.8" class="tk5" text-anchor="end">60</text>
<rect x="337.9" y="311.6" width="1.6" height="1.6" fill="#111"/>
<text x="333.7" y="311.6" class="tk5" text-anchor="end">80</text>
<rect x="336.5" y="298.5" width="1.6" height="1.6" fill="#111"/>
<text x="332.3" y="298.5" class="tk5" text-anchor="end">100</text>
<rect x="335.1" y="285.4" width="1.6" height="1.6" fill="#111"/>
<text x="330.9" y="285.4" class="tk5" text-anchor="end">120</text>
<rect x="333.7" y="272.3" width="1.6" height="1.6" fill="#111"/>
<text x="329.5" y="272.3" class="tk5" text-anchor="end">140</text>
<rect x="332.4" y="259.1" width="1.6" height="1.6" fill="#111"/>
<text x="328.2" y="259.1" class="tk5" text-anchor="end">160</text>
<polygon points="343.7,360.3 498.5,360.3 421.6,451.3" fill="#6b6b6b" stroke="#333" stroke-width="0.6"/>
<path d="M401.3 427.5L401.3 426.5L401.3 426.0L401.2 425.0L401.2 424.4L401.1 423.6L401.0 422.7L400.9 422.3L400.7 421.1L400.7 420.8L400.4 419.9L400.1 418.7L400.1 418.6L399.8 417.6L399.4 416.6L399.1 416.0L398.9 415.5L398.5 414.5L398.0 413.6L397.5 412.7L397.4 412.5L397.0 411.8L396.4 410.9L395.9 410.0L395.3 409.2L394.7 408.4L394.0 407.6L393.4 406.8L392.8 406.1L392.1 405.3L391.4 404.6L390.7 403.9L390.0 403.2L389.3 402.5L388.6 401.8L387.8 401.2L387.5 400.9L387.1 400.6L386.3 399.9L385.5 399.3L384.7 398.8L383.9 398.2L383.8 398.1L383.1 397.6L382.3 397.1L381.4 396.6L381.0 396.3L380.6 396.1L379.7 395.6L378.8 395.1L378.5 395.0L377.9 394.7L376.9 394.2L376.4 394.0L376.0 393.8L375.0 393.5L374.5 393.3L374.0 393.1L373.0 392.8L372.8 392.7L371.9 392.5L371.1 392.3" stroke="#007bff" stroke-width="1.3" fill="none"/>
<path d="M425.7 446.4L425.1 445.6L424.5 444.8L424.0 443.9L423.5 443.0L423.5 442.9L423.1 441.9L422.7 440.8L422.6 440.4L422.4 439.7L422.1 438.5L422.1 438.3L421.9 437.2L421.9 436.5L421.8 435.8L421.7 434.8L421.7 434.4L421.6 433.2L421.6 433.0L421.5 431.6L421.5 431.5L421.4 430.2L421.4 429.9L421.3 428.8L421.2 428.2L421.1 427.4L421.0 426.5L420.9 426.1L420.7 424.8L420.7 424.6L420.5 423.6L420.2 422.6L420.2 422.4L419.9 421.3L419.5 420.3L419.5 420.2L419.1 419.1L418.7 418.1L418.4 417.4L418.2 417.1L417.8 416.1L417.3 415.2L416.7 414.3L416.2 413.4L416.0 413.1L415.6 412.6L415.1 411.7L414.5 410.9L413.9 410.1L413.2 409.3L412.6 408.5L412.0 407.7L411.3 407.0L410.7 406.2L410.0 405.5L409.3 404.8L408.6 404.0L408.0 403.3L407.3 402.6L406.6 401.9L405.9 401.2L405.6 401.0L405.2 400.5L404.4 399.9L403.7 399.2L403.0 398.5L402.3 397.8L401.5 397.2L400.8 396.5L400.1 395.9L399.5 395.4L399.3 395.2L398.6 394.6L397.8 393.9L397.1 393.3L396.3 392.7L395.6 392.0L394.8 391.4L394.8 391.4L394.1 390.8L393.3 390.2L392.5 389.5L391.8 388.9L391.0 388.3L390.8 388.1L390.2 387.7L389.4 387.1L388.6 386.5L387.8 385.9L387.1 385.4L387.0 385.3L386.2 384.8L385.4 384.2L384.6 383.6L383.8 383.1L383.8 383.1L383.0 382.5L382.2 382.0L381.3 381.4L380.9 381.2L380.5 380.9L379.6 380.4L378.7 379.9L378.4 379.7L377.8 379.4L376.9 379.0L376.2 378.7L376.0 378.6L375.0 378.2L374.3 378.0L374.0 377.9L372.9 377.6L372.6 377.5L371.8 377.4L371.2 377.3L370.6 377.3L369.8 377.3L369.3 377.3L368.6 377.3L367.9 377.4L367.5 377.5L366.4 377.7L366.4 377.7L365.3 378.0L364.7 378.2L364.3 378.3L363.3 378.7L362.8 378.9L362.4 379.1L361.4 379.5L360.8 379.8L360.5 379.9M360.7 360.3L361.4 360.7L362.3 361.2L362.8 361.6L363.1 361.7L364.0 362.2L364.9 362.7L365.2 362.8L365.8 363.1L366.8 363.5L367.2 363.7L367.8 363.9L368.8 364.2L369.0 364.3L369.8 364.5L370.6 364.6L371.0 364.7L372.1 364.8L372.1 364.8L373.4 364.9L373.4 364.9L374.7 364.8L374.7 364.8L375.8 364.7L376.1 364.6L377.0 364.5L377.7 364.4L378.1 364.3L379.1 364.0L379.3 364.0L380.2 363.7L381.0 363.5L381.2 363.4L382.2 363.1L382.8 362.9L383.2 362.8L384.2 362.4L384.6 362.3L385.2 362.1L386.2 361.7L386.5 361.6L387.2 361.3L388.1 361.0L388.4 360.9L389.1 360.6L389.8 360.3M496.1 360.3L496.0 360.4L495.6 360.7L495.2 361.0L494.5 361.6L493.8 362.3L493.0 362.9L492.3 363.6L491.6 364.3L490.9 364.9L490.2 365.6L490.1 365.6L489.4 366.3L488.7 367.0L488.0 367.6L487.3 368.3L486.6 369.0L485.9 369.7L485.2 370.4L484.6 371.1L483.9 371.9L483.2 372.6L482.5 373.3L481.9 374.0L481.2 374.8L480.5 375.5L479.9 376.2L479.7 376.5L479.2 377.0L478.6 377.7L477.9 378.5L477.3 379.2L476.7 380.0L476.0 380.8L475.4 381.5L475.3 381.6L474.8 382.3L474.1 383.1L473.5 383.9L472.9 384.7L472.3 385.5L471.7 386.3L471.1 387.1L470.5 387.9L469.9 388.7L469.3 389.5L468.8 390.4L468.2 391.2L467.6 392.0L467.1 392.9L466.9 393.1L466.5 393.7L466.0 394.6L465.4 395.5L464.9 396.4L464.4 397.3L463.9 398.2L463.7 398.4L463.3 399.1L462.9 400.0L462.4 401.0L461.9 402.0L461.8 402.2L461.5 402.9L461.0 403.9L460.6 405.0L460.5 405.3" stroke="#00ffc1" stroke-width="1.3" fill="none"/>
<path d="M349.7 360.3L349.9 360.6L350.4 361.5L350.9 362.4L351.2 363.0L351.4 363.5L351.7 364.5L352.0 365.4L352.0 365.7L352.2 367.1L352.2 367.2L352.1 368.6L352.1 368.7L351.9 369.9M490.2 360.3L489.8 360.6L489.0 361.3L488.3 361.9L487.7 362.4L487.5 362.5L486.8 363.2L486.0 363.8L485.3 364.5L484.6 365.1L483.8 365.8L483.1 366.4L482.7 366.8L482.4 367.1L481.7 367.7L480.9 368.4L480.2 369.1L479.5 369.8L478.8 370.4L478.1 371.1L477.4 371.8L476.7 372.5L476.3 372.8L476.0 373.2L475.3 373.8L474.6 374.5L473.9 375.2L473.2 375.9L472.5 376.6L471.8 377.3L471.1 378.0L470.4 378.7L469.7 379.4L469.0 380.1L468.3 380.8L468.2 380.9L467.6 381.5L466.9 382.2L466.2 382.9L465.5 383.6L464.9 384.3L464.2 385.0L463.5 385.7L462.8 386.4L462.1 387.1L461.4 387.8L460.7 388.5L460.0 389.1L459.7 389.5L459.3 389.8L458.6 390.5L457.9 391.2L457.2 391.9L456.4 392.5L455.7 393.2L455.0 393.9L454.3 394.5L453.6 395.1L453.5 395.2L452.8 395.8L452.0 396.4L451.3 397.0L450.5 397.6L449.7 398.2L449.7 398.2L448.9 398.8L448.1 399.3L447.2 399.9L446.8 400.1L446.4 400.4L445.5 400.8L444.6 401.3L444.5 401.3L443.6 401.7L442.6 402.0L442.6 402.0L441.6 402.3L440.9 402.5L440.5 402.5L439.4 402.7L439.4 402.7L438.1 402.8L438.1 402.8L436.8 402.8L436.8 402.8L435.6 402.7L435.5 402.7L434.4 402.5L434.0 402.4L433.3 402.3L432.3 402.1L432.3 402.0L431.2 401.7L430.6 401.5L430.2 401.4L429.3 401.0L428.6 400.8L428.3 400.6L427.4 400.2L426.5 399.8L426.5 399.8L425.6 399.3L424.7 398.8L424.2 398.6L423.8 398.3L422.9 397.9L422.0 397.3L421.6 397.1L421.2 396.8L420.4 396.3L419.5 395.8L418.8 395.3L418.7 395.2L417.9 394.7L417.0 394.1L416.2 393.5L415.6 393.1L415.4 393.0L414.6 392.4L413.8 391.8L413.1 391.2L412.3 390.6L412.0 390.4L411.5 390.0L410.7 389.4L410.0 388.7L409.2 388.1L408.5 387.5L407.7 386.8L407.5 386.6L407.0 386.2L406.3 385.5L405.5 384.8L404.8 384.1L404.1 383.4L403.4 382.7L402.8 382.0L402.1 381.3L401.5 380.5L400.8 379.7L400.2 378.9L399.7 378.0L399.1 377.2L398.6 376.2L398.6 376.2L398.2 375.2L397.8 374.1L397.7 373.6L397.5 372.9L397.5 371.9L397.5 371.5L397.6 370.5L397.8 369.5L397.9 369.3L398.3 368.3L398.8 367.4L399.4 366.6L400.0 365.8L400.7 365.1L401.4 364.4L402.1 363.7L402.8 363.1L403.6 362.4L404.3 361.9L404.4 361.8L405.2 361.3L406.0 360.7L406.5 360.3" stroke="#00ff00" stroke-width="1.3" fill="none"/>
<path d="M344.8 360.3L344.9 360.5L345.3 361.5L345.6 362.5M485.3 360.3L484.7 360.8L483.9 361.4L483.2 362.0L482.4 362.6L482.2 362.8L481.7 363.2L480.9 363.9L480.2 364.5L479.4 365.1L478.7 365.8L477.9 366.4L477.8 366.5L477.2 367.0L476.4 367.7L475.7 368.3L474.9 368.9L474.2 369.6L473.5 370.2L473.1 370.6L472.7 370.9L472.0 371.5L471.2 372.1L470.5 372.8L469.7 373.4L469.0 374.1L468.3 374.7L468.3 374.7L467.5 375.3L466.8 376.0L466.0 376.6L465.3 377.2L464.5 377.9L463.8 378.5L463.8 378.5L463.0 379.1L462.2 379.7L461.5 380.3L460.7 381.0L459.9 381.6L459.8 381.6L459.2 382.2L458.4 382.7L457.6 383.3L456.8 383.9L456.4 384.2L456.0 384.5L455.2 385.0L454.3 385.6L453.5 386.1L453.5 386.1L452.6 386.6L451.8 387.1L450.9 387.6L450.9 387.6L450.0 388.1L449.1 388.5L448.7 388.7L448.2 388.9L447.2 389.3L446.7 389.6L446.3 389.7L445.3 390.1L444.8 390.2L444.3 390.4L443.2 390.7L443.2 390.7L442.1 390.9L441.6 391.0L441.0 391.1L440.1 391.2L439.8 391.2L438.8 391.3L438.6 391.3L437.4 391.3L437.3 391.3L436.2 391.3L436.0 391.3L435.0 391.2L434.6 391.1L433.8 391.0L433.1 390.9L432.7 390.8L431.6 390.6L431.5 390.6L430.6 390.3L429.8 390.1L429.5 390.0L428.5 389.7L428.0 389.5L427.6 389.3L426.6 388.9L426.0 388.6L425.7 388.5L424.7 388.0L423.8 387.6L423.8 387.6L423.0 387.1L422.1 386.6L421.3 386.1L421.2 386.1L420.4 385.6L419.6 385.0L418.8 384.4L418.1 383.9L418.0 383.8L417.2 383.2L416.5 382.6L415.7 381.9L415.0 381.3L414.3 380.6L413.6 379.9L413.0 379.1L412.3 378.3L411.7 377.5L411.2 376.6L410.7 375.7L410.2 374.7L410.2 374.7L409.8 373.6L409.5 372.5L409.5 372.4L409.4 371.1L409.4 370.8L409.6 369.4L409.6 369.3L409.9 368.3L410.3 367.2L410.6 366.7L410.8 366.3L411.3 365.4L411.9 364.6L412.5 363.8L413.2 363.1L413.9 362.4L414.6 361.7L415.1 361.3L415.3 361.1L416.1 360.5L416.3 360.3" stroke="#86ff00" stroke-width="1.3" fill="none"/>
<path d="M482.7 360.3L482.1 360.8L481.4 361.4L480.6 362.0L479.8 362.6L479.7 362.7L479.1 363.2L478.3 363.8L477.5 364.4L476.8 365.0L476.0 365.7L475.7 365.9L475.2 366.3L474.5 366.9L473.7 367.5L473.0 368.1L472.2 368.8L471.5 369.4L471.5 369.4L470.7 370.0L469.9 370.6L469.2 371.2L468.4 371.9L467.6 372.5L467.4 372.7L466.9 373.1L466.1 373.7L465.3 374.3L464.6 374.9L463.8 375.5L463.6 375.6L463.0 376.1L462.2 376.7L461.4 377.3L460.6 377.8L460.2 378.2L459.8 378.4L459.0 379.0L458.2 379.5L457.4 380.1L457.1 380.2L456.6 380.6L455.7 381.1L454.9 381.7L454.4 381.9L454.0 382.2L453.1 382.6L452.2 383.1L452.0 383.2L451.3 383.6L450.4 384.0L449.9 384.3L449.5 384.4L448.6 384.8L447.9 385.1L447.6 385.2L446.6 385.6L446.1 385.7L445.6 385.9L444.5 386.2L444.4 386.2L443.4 386.4L442.8 386.5L442.3 386.6L441.3 386.8L441.2 386.8L440.0 386.9L439.9 386.9L438.7 386.9L438.6 386.9L437.4 386.9L437.3 386.9L436.1 386.8L436.1 386.8L434.9 386.7L434.6 386.7L433.8 386.5L433.1 386.4L432.7 386.3L431.6 386.0L431.5 386.0L430.6 385.7L429.7 385.5L429.6 385.4L428.6 385.0L427.8 384.7L427.6 384.6L426.7 384.2L425.8 383.8L425.6 383.7L424.9 383.3L424.0 382.8L423.2 382.2L423.0 382.1L422.4 381.7L421.6 381.1L420.8 380.5L420.1 379.9L419.3 379.2L418.6 378.5L418.4 378.2L418.0 377.8L417.4 377.0L417.3 377.0L416.7 376.2L416.2 375.3L415.7 374.3L415.3 373.3L415.1 372.9L414.9 372.2L414.8 371.0L414.7 370.9L414.8 369.5L414.8 369.3L415.0 368.2L415.3 367.1L415.4 367.1L415.8 366.1L416.3 365.2L416.9 364.4L417.5 363.6L418.1 362.8L418.8 362.1L419.5 361.4L420.2 360.8L420.7 360.3" stroke="#c2ff00" stroke-width="1.3" fill="none"/>
<polygon points="496.4,300.4 502.9,318.7 498.5,326.4" fill="#008560" stroke="#151515" stroke-width="0.55" stroke-opacity="0.8"/>
<polygon points="336.1,288.0 345.9,302.0 350.2,308.0 340.8,297.5" fill="#2a7800" stroke="#151515" stroke-width="0.55" stroke-opacity="0.8"/>
<polygon points="380.1,315.9 388.1,312.0 392.0,308.7 383.9,313.3" fill="#008b48" stroke="#151515" stroke-width="0.55" stroke-opacity="0.8"/>
<polygon points="388.1,312.0 396.2,306.5 400.1,302.8 392.0,308.7" fill="#009920" stroke="#151515" stroke-width="0.55" stroke-opacity="0.8"/>
<polygon points="345.9,302.0 355.0,311.1 359.1,314.2 350.2,308.0" fill="#007822" stroke="#151515" stroke-width="0.55" stroke-opacity="0.8"/>
<polygon points="396.2,306.5 404.4,299.8 408.4,296.3 400.1,302.8" fill="#1ca300" stroke="#151515" stroke-width="0.55" stroke-opacity="0.8"/>
<polygon points="455.8,270.6 464.5,270.8 468.7,279.3 460.2,276.8" fill="#df3737" stroke="#151515" stroke-width="0.55" stroke-opacity="0.8"/>
<polygon points="473.1,273.1 481.4,277.7 484.8,293.8 477.0,284.0" fill="#a35800" stroke="#151515" stroke-width="0.55" stroke-opacity="0.8"/>
<polygon points="355.0,311.1 363.7,316.0 367.5,316.7 359.1,314.2" fill="#00784d" stroke="#151515" stroke-width="0.55" stroke-opacity="0.8"/>
<polygon points="363.7,316.0 372.0,317.4 375.7,316.2 367.5,316.7" fill="#00785d" stroke="#151515" stroke-width="0.55" stroke-opacity="0.8"/>
<polygon points="372.0,317.4 380.1,315.9 383.9,313.3 375.7,316.2" fill="#007957" stroke="#151515" stroke-width="0.55" stroke-opacity="0.8"/>
<polygon points="404.4,299.8 412.7,292.6 416.9,289.7 408.4,296.3" fill="#67ad00" stroke="#151515" stroke-width="0.55" stroke-opacity="0.8"/>
<polygon points="412.7,292.6 421.1,285.4 425.4,284.0 416.9,289.7" fill="#b9b605" stroke="#151515" stroke-width="0.55" stroke-opacity="0.8"/>
<polygon points="421.1,285.4 429.7,279.2 434.1,280.3 425.4,284.0" fill="#cc831c" stroke="#151515" stroke-width="0.55" stroke-opacity="0.8"/>
<polygon points="429.7,279.2 438.4,275.2 442.8,277.6 434.1,280.3" fill="#dd5f34" stroke="#151515" stroke-width="0.55" stroke-opacity="0.8"/>
<polygon points="438.4,275.2 447.1,272.2 451.5,276.4 442.8,277.6" fill="#e84948" stroke="#151515" stroke-width="0.55" stroke-opacity="0.8"/>
<polygon points="447.1,272.2 455.8,270.6 460.2,276.8 451.5,276.4" fill="#eb4d4d" stroke="#151515" stroke-width="0.55" stroke-opacity="0.8"/>
<polygon points="464.5,270.8 473.1,273.1 477.0,284.0 468.7,279.3" fill="#c42912" stroke="#151515" stroke-width="0.55" stroke-opacity="0.8"/>
<polygon points="481.4,277.7 489.2,286.5 492.0,307.9 484.8,293.8" fill="#7b9500" stroke="#151515" stroke-width="0.55" stroke-opacity="0.8"/>
<polygon points="489.2,286.5 496.4,300.4 498.5,326.4 492.0,307.9" fill="#008908" stroke="#151515" stroke-width="0.55" stroke-opacity="0.8"/>
<polygon points="492.0,307.9 498.5,326.4 494.3,332.7" fill="#007e71" stroke="#151515" stroke-width="0.55" stroke-opacity="0.8"/>
<polygon points="340.8,297.5 350.2,308.0 354.6,315.1 345.6,307.8" fill="#0e7800" stroke="#151515" stroke-width="0.55" stroke-opacity="0.8"/>
<polygon points="350.2,308.0 359.1,314.2 363.2,318.8 354.6,315.1" fill="#007827" stroke="#151515" stroke-width="0.55" stroke-opacity="0.8"/>
<polygon points="359.1,314.2 367.5,316.7 371.5,319.3 363.2,318.8" fill="#008948" stroke="#151515" stroke-width="0.55" stroke-opacity="0.8"/>
<polygon points="383.9,313.3 392.0,308.7 396.0,308.1 387.8,313.3" fill="#17c82e" stroke="#151515" stroke-width="0.55" stroke-opacity="0.8"/>
<polygon points="392.0,308.7 400.1,302.8 404.3,302.1 396.0,308.1" fill="#47d123" stroke="#151515" stroke-width="0.55" stroke-opacity="0.8"/>
<polygon points="400.1,302.8 408.4,296.3 412.6,296.0 404.3,302.1" fill="#93d92f" stroke="#151515" stroke-width="0.55" stroke-opacity="0.8"/>
<polygon points="408.4,296.3 416.9,289.7 421.2,290.2 412.6,296.0" fill="#dfe23d" stroke="#151515" stroke-width="0.55" stroke-opacity="0.8"/>
<polygon points="416.9,289.7 425.4,284.0 429.8,286.5 421.2,290.2" fill="#eab34c" stroke="#151515" stroke-width="0.55" stroke-opacity="0.8"/>
<polygon points="425.4,284.0 434.1,280.3 438.5,283.9 429.8,286.5" fill="#f2905d" stroke="#151515" stroke-width="0.55" stroke-opacity="0.8"/>
<polygon points="434.1,280.3 442.8,277.6 447.2,282.7 438.5,283.9" fill="#f57766" stroke="#151515" stroke-width="0.55" stroke-opacity="0.8"/>
<polygon points="442.8,277.6 451.5,276.4 455.8,283.2 447.2,282.7" fill="#f2605e" stroke="#151515" stroke-width="0.55" stroke-opacity="0.8"/>
<polygon points="451.5,276.4 460.2,276.8 464.3,285.6 455.8,283.2" fill="#e2483e" stroke="#151515" stroke-width="0.55" stroke-opacity="0.8"/>
<polygon points="460.2,276.8 468.7,279.3 472.6,290.5 464.3,285.6" fill="#c44211" stroke="#151515" stroke-width="0.55" stroke-opacity="0.8"/>
<polygon points="468.7,279.3 477.0,284.0 480.5,300.6 472.6,290.5" fill="#a27000" stroke="#151515" stroke-width="0.55" stroke-opacity="0.8"/>
<polygon points="477.0,284.0 484.8,293.8 487.8,314.5 480.5,300.6" fill="#619000" stroke="#151515" stroke-width="0.55" stroke-opacity="0.8"/>
<polygon points="484.8,293.8 492.0,307.9 494.3,332.7 487.8,314.5" fill="#00841c" stroke="#151515" stroke-width="0.55" stroke-opacity="0.8"/>
<polygon points="367.5,316.7 375.7,316.2 379.7,317.2 371.5,319.3" fill="#00a85a" stroke="#151515" stroke-width="0.55" stroke-opacity="0.8"/>
<polygon points="375.7,316.2 383.9,313.3 387.8,313.3 379.7,317.2" fill="#07bb4e" stroke="#151515" stroke-width="0.55" stroke-opacity="0.8"/>
<polygon points="487.8,314.5 494.3,332.7 490.3,337.9" fill="#007977" stroke="#151515" stroke-width="0.55" stroke-opacity="0.8"/>
<polygon points="345.6,307.8 354.6,315.1 359.0,323.0 350.3,318.3" fill="#008416" stroke="#151515" stroke-width="0.55" stroke-opacity="0.8"/>
<polygon points="354.6,315.1 363.2,318.8 367.4,324.4 359.0,323.0" fill="#00ae4b" stroke="#151515" stroke-width="0.55" stroke-opacity="0.8"/>
<polygon points="363.2,318.8 371.5,319.3 375.6,323.2 367.4,324.4" fill="#37df8c" stroke="#151515" stroke-width="0.55" stroke-opacity="0.8"/>
<polygon points="371.5,319.3 379.7,317.2 383.8,319.9 375.6,323.2" fill="#58ef96" stroke="#151515" stroke-width="0.55" stroke-opacity="0.8"/>
<polygon points="379.7,317.2 387.8,313.3 391.9,315.2 383.8,319.9" fill="#60f37d" stroke="#151515" stroke-width="0.55" stroke-opacity="0.8"/>
<polygon points="387.8,313.3 396.0,308.1 400.1,309.7 391.9,315.2" fill="#73f463" stroke="#151515" stroke-width="0.55" stroke-opacity="0.8"/>
<polygon points="396.0,308.1 404.3,302.1 408.5,303.8 400.1,309.7" fill="#a9f668" stroke="#151515" stroke-width="0.55" stroke-opacity="0.8"/>
<polygon points="404.3,302.1 412.6,296.0 416.9,298.2 408.5,303.8" fill="#e2f970" stroke="#151515" stroke-width="0.55" stroke-opacity="0.8"/>
<polygon points="412.6,296.0 421.2,290.2 425.5,293.6 416.9,298.2" fill="#fde67d" stroke="#151515" stroke-width="0.55" stroke-opacity="0.8"/>
<polygon points="421.2,290.2 429.8,286.5 434.1,291.0 425.5,293.6" fill="#fcbd79" stroke="#151515" stroke-width="0.55" stroke-opacity="0.8"/>
<polygon points="429.8,286.5 438.5,283.9 442.8,289.7 434.1,291.0" fill="#fca27a" stroke="#151515" stroke-width="0.55" stroke-opacity="0.8"/>
<polygon points="438.5,283.9 447.2,282.7 451.4,290.0 442.8,289.7" fill="#f7876b" stroke="#151515" stroke-width="0.55" stroke-opacity="0.8"/>
<polygon points="447.2,282.7 455.8,283.2 460.0,292.1 451.4,290.0" fill="#e76c47" stroke="#151515" stroke-width="0.55" stroke-opacity="0.8"/>
<polygon points="455.8,283.2 464.3,285.6 468.3,297.4 460.0,292.1" fill="#c45f11" stroke="#151515" stroke-width="0.55" stroke-opacity="0.8"/>
<polygon points="464.3,285.6 472.6,290.5 476.2,307.0 468.3,297.4" fill="#a78b00" stroke="#151515" stroke-width="0.55" stroke-opacity="0.8"/>
<polygon points="472.6,290.5 480.5,300.6 483.5,320.3 476.2,307.0" fill="#4e8e00" stroke="#151515" stroke-width="0.55" stroke-opacity="0.8"/>
<polygon points="480.5,300.6 487.8,314.5 490.3,337.9 483.5,320.3" fill="#008028" stroke="#151515" stroke-width="0.55" stroke-opacity="0.8"/>
<polygon points="483.5,320.3 490.3,337.9 486.3,342.2" fill="#007578" stroke="#151515" stroke-width="0.55" stroke-opacity="0.8"/>
<polygon points="367.4,324.4 375.6,323.2 379.8,328.1 371.7,330.7" fill="#84ffc7" stroke="#151515" stroke-width="0.55" stroke-opacity="0.8"/>
<polygon points="350.3,318.3 359.0,323.0 363.5,331.1 355.0,328.8" fill="#08bc5b" stroke="#151515" stroke-width="0.55" stroke-opacity="0.8"/>
<polygon points="359.0,323.0 367.4,324.4 371.7,330.7 363.5,331.1" fill="#55eeb0" stroke="#151515" stroke-width="0.55" stroke-opacity="0.8"/>
<polygon points="375.6,323.2 383.8,319.9 387.9,323.9 379.8,328.1" fill="#8fffb9" stroke="#151515" stroke-width="0.55" stroke-opacity="0.8"/>
<polygon points="383.8,319.9 391.9,315.2 396.1,318.6 387.9,323.9" fill="#8fff9a" stroke="#151515" stroke-width="0.55" stroke-opacity="0.8"/>
<polygon points="391.9,315.2 400.1,309.7 404.3,313.0 396.1,318.6" fill="#a9ff8e" stroke="#151515" stroke-width="0.55" stroke-opacity="0.8"/>
<polygon points="400.1,309.7 408.5,303.8 412.7,307.4 404.3,313.0" fill="#d3ff90" stroke="#151515" stroke-width="0.55" stroke-opacity="0.8"/>
<polygon points="408.5,303.8 416.9,298.2 421.2,302.5 412.7,307.4" fill="#fbff96" stroke="#151515" stroke-width="0.55" stroke-opacity="0.8"/>
<polygon points="416.9,298.2 425.5,293.6 429.8,298.7 421.2,302.5" fill="#ffeb9a" stroke="#151515" stroke-width="0.55" stroke-opacity="0.8"/>
<polygon points="425.5,293.6 434.1,291.0 438.5,297.1 429.8,298.7" fill="#ffc988" stroke="#151515" stroke-width="0.55" stroke-opacity="0.8"/>
<polygon points="434.1,291.0 442.8,289.7 447.1,297.1 438.5,297.1" fill="#fbaf77" stroke="#151515" stroke-width="0.55" stroke-opacity="0.8"/>
<polygon points="442.8,289.7 451.4,290.0 455.6,298.9 447.1,297.1" fill="#ed9652" stroke="#151515" stroke-width="0.55" stroke-opacity="0.8"/>
<polygon points="451.4,290.0 460.0,292.1 463.9,304.3 455.6,298.9" fill="#c78115" stroke="#151515" stroke-width="0.55" stroke-opacity="0.8"/>
<polygon points="460.0,292.1 468.3,297.4 471.9,313.0 463.9,304.3" fill="#a8a300" stroke="#151515" stroke-width="0.55" stroke-opacity="0.8"/>
<polygon points="468.3,297.4 476.2,307.0 479.4,325.6 471.9,313.0" fill="#408e00" stroke="#151515" stroke-width="0.55" stroke-opacity="0.8"/>
<polygon points="476.2,307.0 483.5,320.3 486.3,342.2 479.4,325.6" fill="#007e2e" stroke="#151515" stroke-width="0.55" stroke-opacity="0.8"/>
<polygon points="479.4,325.6 486.3,342.2 482.3,345.7" fill="#007778" stroke="#151515" stroke-width="0.55" stroke-opacity="0.8"/>
<polygon points="355.0,328.8 363.5,331.1 367.8,339.3 359.6,338.9" fill="#51ecc6" stroke="#151515" stroke-width="0.55" stroke-opacity="0.8"/>
<polygon points="363.5,331.1 371.7,330.7 375.9,337.3 367.8,339.3" fill="#8bffe5" stroke="#151515" stroke-width="0.55" stroke-opacity="0.8"/>
<polygon points="371.7,330.7 379.8,328.1 384.0,333.6 375.9,337.3" fill="#a1ffdf" stroke="#151515" stroke-width="0.55" stroke-opacity="0.8"/>
<polygon points="379.8,328.1 387.9,323.9 392.1,328.7 384.0,333.6" fill="#a3ffc9" stroke="#151515" stroke-width="0.55" stroke-opacity="0.8"/>
<polygon points="387.9,323.9 396.1,318.6 400.3,323.1 392.1,328.7" fill="#a1ffa9" stroke="#151515" stroke-width="0.55" stroke-opacity="0.8"/>
<polygon points="396.1,318.6 404.3,313.0 408.6,317.5 400.3,323.1" fill="#bcffa1" stroke="#151515" stroke-width="0.55" stroke-opacity="0.8"/>
<polygon points="404.3,313.0 412.7,307.4 417.0,312.4 408.6,317.5" fill="#dfffa3" stroke="#151515" stroke-width="0.55" stroke-opacity="0.8"/>
<polygon points="412.7,307.4 421.2,302.5 425.5,308.3 417.0,312.4" fill="#fdffa6" stroke="#151515" stroke-width="0.55" stroke-opacity="0.8"/>
<polygon points="421.2,302.5 429.8,298.7 434.1,305.6 425.5,308.3" fill="#fff5a4" stroke="#151515" stroke-width="0.55" stroke-opacity="0.8"/>
<polygon points="429.8,298.7 438.5,297.1 442.7,304.9 434.1,305.6" fill="#ffdb8a" stroke="#151515" stroke-width="0.55" stroke-opacity="0.8"/>
<polygon points="438.5,297.1 447.1,297.1 451.2,306.6 442.7,304.9" fill="#f3c260" stroke="#151515" stroke-width="0.55" stroke-opacity="0.8"/>
<polygon points="447.1,297.1 455.6,298.9 459.6,311.1 451.2,306.6" fill="#d9b62e" stroke="#151515" stroke-width="0.55" stroke-opacity="0.8"/>
<polygon points="455.6,298.9 463.9,304.3 467.6,318.9 459.6,311.1" fill="#97ab00" stroke="#151515" stroke-width="0.55" stroke-opacity="0.8"/>
<polygon points="463.9,304.3 471.9,313.0 475.3,330.3 467.6,318.9" fill="#359000" stroke="#151515" stroke-width="0.55" stroke-opacity="0.8"/>
<polygon points="471.9,313.0 479.4,325.6 482.3,345.7 475.3,330.3" fill="#007d30" stroke="#151515" stroke-width="0.55" stroke-opacity="0.8"/>
<polygon points="475.3,330.3 482.3,345.7 478.4,348.6" fill="#007873" stroke="#151515" stroke-width="0.55" stroke-opacity="0.8"/>
<polygon points="359.6,338.9 367.8,339.3 372.2,347.2 364.1,348.4" fill="#82fafe" stroke="#151515" stroke-width="0.55" stroke-opacity="0.8"/>
<polygon points="367.8,339.3 375.9,337.3 380.2,344.0 372.2,347.2" fill="#a2fffe" stroke="#151515" stroke-width="0.55" stroke-opacity="0.8"/>
<polygon points="375.9,337.3 384.0,333.6 388.2,339.4 380.2,344.0" fill="#aaffed" stroke="#151515" stroke-width="0.55" stroke-opacity="0.8"/>
<polygon points="384.0,333.6 392.1,328.7 396.3,334.0 388.2,339.4" fill="#aaffd2" stroke="#151515" stroke-width="0.55" stroke-opacity="0.8"/>
<polygon points="392.1,328.7 400.3,323.1 404.5,328.3 396.3,334.0" fill="#a9ffb2" stroke="#151515" stroke-width="0.55" stroke-opacity="0.8"/>
<polygon points="400.3,323.1 408.6,317.5 412.8,323.0 404.5,328.3" fill="#c0ffa9" stroke="#151515" stroke-width="0.55" stroke-opacity="0.8"/>
<polygon points="408.6,317.5 417.0,312.4 421.3,318.4 412.8,323.0" fill="#deffaa" stroke="#151515" stroke-width="0.55" stroke-opacity="0.8"/>
<polygon points="417.0,312.4 425.5,308.3 429.8,315.2 421.3,318.4" fill="#f6ffa9" stroke="#151515" stroke-width="0.55" stroke-opacity="0.8"/>
<polygon points="425.5,308.3 434.1,305.6 438.4,313.8 429.8,315.2" fill="#ffff9c" stroke="#151515" stroke-width="0.55" stroke-opacity="0.8"/>
<polygon points="434.1,305.6 442.7,304.9 446.9,314.6 438.4,313.8" fill="#fcf178" stroke="#151515" stroke-width="0.55" stroke-opacity="0.8"/>
<polygon points="442.7,304.9 451.2,306.6 455.3,318.0 446.9,314.6" fill="#e0e13b" stroke="#151515" stroke-width="0.55" stroke-opacity="0.8"/>
<polygon points="451.2,306.6 459.6,311.1 463.4,324.6 455.3,318.0" fill="#85b300" stroke="#151515" stroke-width="0.55" stroke-opacity="0.8"/>
<polygon points="459.6,311.1 467.6,318.9 471.2,334.7 463.4,324.6" fill="#2b9400" stroke="#151515" stroke-width="0.55" stroke-opacity="0.8"/>
<polygon points="467.6,318.9 475.3,330.3 478.4,348.6 471.2,334.7" fill="#007d30" stroke="#151515" stroke-width="0.55" stroke-opacity="0.8"/>
<polygon points="471.2,334.7 478.4,348.6 474.5,351.0" fill="#007869" stroke="#151515" stroke-width="0.55" stroke-opacity="0.8"/>
<polygon points="364.1,348.4 372.2,347.2 376.4,354.6 368.5,357.2" fill="#9ce7ff" stroke="#151515" stroke-width="0.55" stroke-opacity="0.8"/>
<polygon points="372.2,347.2 380.2,344.0 384.4,350.4 376.4,354.6" fill="#abfcff" stroke="#151515" stroke-width="0.55" stroke-opacity="0.8"/>
<polygon points="380.2,344.0 388.2,339.4 392.4,345.2 384.4,350.4" fill="#adfff6" stroke="#151515" stroke-width="0.55" stroke-opacity="0.8"/>
<polygon points="388.2,339.4 396.3,334.0 400.5,339.5 392.4,345.2" fill="#acffd9" stroke="#151515" stroke-width="0.55" stroke-opacity="0.8"/>
<polygon points="396.3,334.0 404.5,328.3 408.7,333.9 400.5,339.5" fill="#abffb9" stroke="#151515" stroke-width="0.55" stroke-opacity="0.8"/>
<polygon points="404.5,328.3 412.8,323.0 417.1,329.0 408.7,333.9" fill="#bcffac" stroke="#151515" stroke-width="0.55" stroke-opacity="0.8"/>
<polygon points="412.8,323.0 421.3,318.4 425.5,325.1 417.1,329.0" fill="#d6ffab" stroke="#151515" stroke-width="0.55" stroke-opacity="0.8"/>
<polygon points="421.3,318.4 429.8,315.2 434.1,322.9 425.5,325.1" fill="#e7ffa4" stroke="#151515" stroke-width="0.55" stroke-opacity="0.8"/>
<polygon points="429.8,315.2 438.4,313.8 442.6,322.7 434.1,322.9" fill="#e9ff89" stroke="#151515" stroke-width="0.55" stroke-opacity="0.8"/>
<polygon points="438.4,313.8 446.9,314.6 451.0,325.0 442.6,322.7" fill="#cced53" stroke="#151515" stroke-width="0.55" stroke-opacity="0.8"/>
<polygon points="446.9,314.6 455.3,318.0 459.2,330.2 451.0,325.0" fill="#7ac20f" stroke="#151515" stroke-width="0.55" stroke-opacity="0.8"/>
<polygon points="455.3,318.0 463.4,324.6 467.1,338.8 459.2,330.2" fill="#239a00" stroke="#151515" stroke-width="0.55" stroke-opacity="0.8"/>
<polygon points="463.4,324.6 471.2,334.7 474.5,351.0 467.1,338.8" fill="#007e2d" stroke="#151515" stroke-width="0.55" stroke-opacity="0.8"/>
<polygon points="467.1,338.8 474.5,351.0 470.6,353.2" fill="#00785d" stroke="#151515" stroke-width="0.55" stroke-opacity="0.8"/>
<polygon points="368.5,357.2 376.4,354.6 380.7,361.3 372.8,365.0" fill="#a8d9ff" stroke="#151515" stroke-width="0.55" stroke-opacity="0.8"/>
<polygon points="376.4,354.6 384.4,350.4 388.6,356.4 380.7,361.3" fill="#adf1ff" stroke="#151515" stroke-width="0.55" stroke-opacity="0.8"/>
<polygon points="384.4,350.4 392.4,345.2 396.6,350.8 388.6,356.4" fill="#adfffe" stroke="#151515" stroke-width="0.55" stroke-opacity="0.8"/>
<polygon points="392.4,345.2 400.5,339.5 404.7,345.1 396.6,350.8" fill="#acffdf" stroke="#151515" stroke-width="0.55" stroke-opacity="0.8"/>
<polygon points="400.5,339.5 408.7,333.9 413.0,339.7 404.7,345.1" fill="#abffc0" stroke="#151515" stroke-width="0.55" stroke-opacity="0.8"/>
<polygon points="408.7,333.9 417.1,329.0 421.3,335.2 413.0,339.7" fill="#b4ffac" stroke="#151515" stroke-width="0.55" stroke-opacity="0.8"/>
<polygon points="417.1,329.0 425.5,325.1 429.8,332.2 421.3,335.2" fill="#c9ffa8" stroke="#151515" stroke-width="0.55" stroke-opacity="0.8"/>
<polygon points="425.5,325.1 434.1,322.9 438.3,330.9 429.8,332.2" fill="#cfff97" stroke="#151515" stroke-width="0.55" stroke-opacity="0.8"/>
<polygon points="434.1,322.9 442.6,322.7 446.7,332.0 438.3,330.9" fill="#baf86c" stroke="#151515" stroke-width="0.55" stroke-opacity="0.8"/>
<polygon points="442.6,322.7 451.0,325.0 455.0,335.8 446.7,332.0" fill="#74d426" stroke="#151515" stroke-width="0.55" stroke-opacity="0.8"/>
<polygon points="451.0,325.0 459.2,330.2 463.0,342.8 455.0,335.8" fill="#1aa300" stroke="#151515" stroke-width="0.55" stroke-opacity="0.8"/>
<polygon points="459.2,330.2 467.1,338.8 470.6,353.2 463.0,342.8" fill="#00822a" stroke="#151515" stroke-width="0.55" stroke-opacity="0.8"/>
<polygon points="463.0,342.8 470.6,353.2 466.7,355.3" fill="#007850" stroke="#151515" stroke-width="0.55" stroke-opacity="0.8"/>
<polygon points="372.8,365.0 380.7,361.3 384.8,367.3 377.0,371.8" fill="#abceff" stroke="#151515" stroke-width="0.55" stroke-opacity="0.8"/>
<polygon points="380.7,361.3 388.6,356.4 392.7,361.9 384.8,367.3" fill="#abe8ff" stroke="#151515" stroke-width="0.55" stroke-opacity="0.8"/>
<polygon points="388.6,356.4 396.6,350.8 400.7,356.1 392.7,361.9" fill="#aaffff" stroke="#151515" stroke-width="0.55" stroke-opacity="0.8"/>
<polygon points="396.6,350.8 404.7,345.1 408.9,350.4 400.7,356.1" fill="#a9ffe3" stroke="#151515" stroke-width="0.55" stroke-opacity="0.8"/>
<polygon points="404.7,345.1 413.0,339.7 417.2,345.4 408.9,350.4" fill="#aaffc4" stroke="#151515" stroke-width="0.55" stroke-opacity="0.8"/>
<polygon points="413.0,339.7 421.3,335.2 425.6,341.5 417.2,345.4" fill="#a9ffa9" stroke="#151515" stroke-width="0.55" stroke-opacity="0.8"/>
<polygon points="421.3,335.2 429.8,332.2 434.0,339.3 425.6,341.5" fill="#b6ffa0" stroke="#151515" stroke-width="0.55" stroke-opacity="0.8"/>
<polygon points="429.8,332.2 438.3,330.9 442.4,339.1 434.0,339.3" fill="#aafe82" stroke="#151515" stroke-width="0.55" stroke-opacity="0.8"/>
<polygon points="438.3,330.9 446.7,332.0 450.8,341.5 442.4,339.1" fill="#73e643" stroke="#151515" stroke-width="0.55" stroke-opacity="0.8"/>
<polygon points="446.7,332.0 455.0,335.8 458.9,346.8 450.8,341.5" fill="#11b000" stroke="#151515" stroke-width="0.55" stroke-opacity="0.8"/>
<polygon points="455.0,335.8 463.0,342.8 466.7,355.3 458.9,346.8" fill="#008827" stroke="#151515" stroke-width="0.55" stroke-opacity="0.8"/>
<polygon points="458.9,346.8 466.7,355.3 462.8,357.5" fill="#007842" stroke="#151515" stroke-width="0.55" stroke-opacity="0.8"/>
<polygon points="377.0,371.8 384.8,367.3 388.9,372.5 381.1,377.5" fill="#a7c3ff" stroke="#151515" stroke-width="0.55" stroke-opacity="0.8"/>
<polygon points="384.8,367.3 392.7,361.9 396.8,366.7 388.9,372.5" fill="#a6e1ff" stroke="#151515" stroke-width="0.55" stroke-opacity="0.8"/>
<polygon points="392.7,361.9 400.7,356.1 404.9,360.9 396.8,366.7" fill="#a5ffff" stroke="#151515" stroke-width="0.55" stroke-opacity="0.8"/>
<polygon points="408.9,350.4 417.2,345.4 421.4,350.9 413.1,355.4" fill="#a5ffc6" stroke="#151515" stroke-width="0.55" stroke-opacity="0.8"/>
<polygon points="417.2,345.4 425.6,341.5 429.8,347.7 421.4,350.9" fill="#a2ffaa" stroke="#151515" stroke-width="0.55" stroke-opacity="0.8"/>
<polygon points="425.6,341.5 434.0,339.3 438.2,346.3 429.8,347.7" fill="#9bff91" stroke="#151515" stroke-width="0.55" stroke-opacity="0.8"/>
<polygon points="434.0,339.3 442.4,339.1 446.6,347.2 438.2,346.3" fill="#74f361" stroke="#151515" stroke-width="0.55" stroke-opacity="0.8"/>
<polygon points="450.8,341.5 458.9,346.8 462.8,357.5 454.8,350.8" fill="#009224" stroke="#151515" stroke-width="0.55" stroke-opacity="0.8"/>
<polygon points="400.7,356.1 408.9,350.4 413.1,355.4 404.9,360.9" fill="#a5ffe5" stroke="#151515" stroke-width="0.55" stroke-opacity="0.8"/>
<polygon points="442.4,339.1 450.8,341.5 454.8,350.8 446.6,347.2" fill="#18c512" stroke="#151515" stroke-width="0.55" stroke-opacity="0.8"/>
<polygon points="454.8,350.8 462.8,357.5 458.8,359.8" fill="#007835" stroke="#151515" stroke-width="0.55" stroke-opacity="0.8"/>
<polygon points="381.1,377.5 388.9,372.5 393.0,376.8 385.1,382.2" fill="#9fbaff" stroke="#151515" stroke-width="0.55" stroke-opacity="0.8"/>
<polygon points="388.9,372.5 396.8,366.7 400.9,370.9 393.0,376.8" fill="#9eddff" stroke="#151515" stroke-width="0.55" stroke-opacity="0.8"/>
<polygon points="396.8,366.7 404.9,360.9 409.0,365.2 400.9,370.9" fill="#9effff" stroke="#151515" stroke-width="0.55" stroke-opacity="0.8"/>
<polygon points="421.4,350.9 429.8,347.7 434.0,353.5 425.6,356.0" fill="#95ffa6" stroke="#151515" stroke-width="0.55" stroke-opacity="0.8"/>
<polygon points="429.8,347.7 438.2,346.3 442.4,353.1 434.0,353.5" fill="#77fb7b" stroke="#151515" stroke-width="0.55" stroke-opacity="0.8"/>
<polygon points="404.9,360.9 413.1,355.4 417.2,360.1 409.0,365.2" fill="#9fffe3" stroke="#151515" stroke-width="0.55" stroke-opacity="0.8"/>
<polygon points="413.1,355.4 421.4,350.9 425.6,356.0 417.2,360.1" fill="#9effc4" stroke="#151515" stroke-width="0.55" stroke-opacity="0.8"/>
<polygon points="438.2,346.3 446.6,347.2 450.7,355.0 442.4,353.1" fill="#32db3a" stroke="#151515" stroke-width="0.55" stroke-opacity="0.8"/>
<polygon points="446.6,347.2 454.8,350.8 458.8,359.8 450.7,355.0" fill="#00a023" stroke="#151515" stroke-width="0.55" stroke-opacity="0.8"/>
<polygon points="450.7,355.0 458.8,359.8 454.8,362.4" fill="#00842e" stroke="#151515" stroke-width="0.55" stroke-opacity="0.8"/>
<polygon points="385.1,382.2 393.0,376.8 397.0,380.4 389.1,386.0" fill="#93b4ff" stroke="#151515" stroke-width="0.55" stroke-opacity="0.8"/>
<polygon points="393.0,376.8 400.9,370.9 405.0,374.5 397.0,380.4" fill="#94dcff" stroke="#151515" stroke-width="0.55" stroke-opacity="0.8"/>
<polygon points="400.9,370.9 409.0,365.2 413.2,369.0 405.0,374.5" fill="#94ffff" stroke="#151515" stroke-width="0.55" stroke-opacity="0.8"/>
<polygon points="409.0,365.2 417.2,360.1 421.4,364.3 413.2,369.0" fill="#95ffdc" stroke="#151515" stroke-width="0.55" stroke-opacity="0.8"/>
<polygon points="417.2,360.1 425.6,356.0 429.8,360.8 421.4,364.3" fill="#91ffbc" stroke="#151515" stroke-width="0.55" stroke-opacity="0.8"/>
<polygon points="425.6,356.0 434.0,353.5 438.2,359.1 429.8,360.8" fill="#80fe99" stroke="#151515" stroke-width="0.55" stroke-opacity="0.8"/>
<polygon points="434.0,353.5 442.4,353.1 446.5,359.5 438.2,359.1" fill="#4fec64" stroke="#151515" stroke-width="0.55" stroke-opacity="0.8"/>
<polygon points="442.4,353.1 450.7,355.0 454.8,362.4 446.5,359.5" fill="#00b325" stroke="#151515" stroke-width="0.55" stroke-opacity="0.8"/>
<polygon points="446.5,359.5 454.8,362.4 450.7,365.5" fill="#00962a" stroke="#151515" stroke-width="0.55" stroke-opacity="0.8"/>
<polygon points="389.1,386.0 397.0,380.4 401.1,383.3 393.1,388.9" fill="#85b3ff" stroke="#151515" stroke-width="0.55" stroke-opacity="0.8"/>
<polygon points="397.0,380.4 405.0,374.5 409.1,377.6 401.1,383.3" fill="#87e0ff" stroke="#151515" stroke-width="0.55" stroke-opacity="0.8"/>
<polygon points="405.0,374.5 413.2,369.0 417.3,372.4 409.1,377.6" fill="#88fff6" stroke="#151515" stroke-width="0.55" stroke-opacity="0.8"/>
<polygon points="413.2,369.0 421.4,364.3 425.6,368.1 417.3,372.4" fill="#87ffd0" stroke="#151515" stroke-width="0.55" stroke-opacity="0.8"/>
<polygon points="421.4,364.3 429.8,360.8 434.0,365.3 425.6,368.1" fill="#7efdad" stroke="#151515" stroke-width="0.55" stroke-opacity="0.8"/>
<polygon points="429.8,360.8 438.2,359.1 442.4,364.2 434.0,365.3" fill="#61f382" stroke="#151515" stroke-width="0.55" stroke-opacity="0.8"/>
<polygon points="438.2,359.1 446.5,359.5 450.7,365.5 442.4,364.2" fill="#1ece43" stroke="#151515" stroke-width="0.55" stroke-opacity="0.8"/>
<polygon points="442.4,364.2 450.7,365.5 446.6,369.1" fill="#00ad28" stroke="#151515" stroke-width="0.55" stroke-opacity="0.8"/>
<polygon points="393.1,388.9 401.1,383.3 405.1,385.6 397.1,391.2" fill="#76b8fb" stroke="#151515" stroke-width="0.55" stroke-opacity="0.8"/>
<polygon points="401.1,383.3 409.1,377.6 413.2,380.2 405.1,385.6" fill="#7ae8fc" stroke="#151515" stroke-width="0.55" stroke-opacity="0.8"/>
<polygon points="409.1,377.6 417.3,372.4 421.5,375.4 413.2,380.2" fill="#7bfce5" stroke="#151515" stroke-width="0.55" stroke-opacity="0.8"/>
<polygon points="417.3,372.4 425.6,368.1 429.8,371.6 421.5,375.4" fill="#77fbbe" stroke="#151515" stroke-width="0.55" stroke-opacity="0.8"/>
<polygon points="425.6,368.1 434.0,365.3 438.2,369.4 429.8,371.6" fill="#67f696" stroke="#151515" stroke-width="0.55" stroke-opacity="0.8"/>
<polygon points="434.0,365.3 442.4,364.2 446.6,369.1 438.2,369.4" fill="#3be161" stroke="#151515" stroke-width="0.55" stroke-opacity="0.8"/>
<polygon points="438.2,369.4 446.6,369.1 442.5,373.4" fill="#17c93f" stroke="#151515" stroke-width="0.55" stroke-opacity="0.8"/>
<polygon points="397.1,391.2 405.1,385.6 409.2,387.7 401.1,393.0" fill="#6ac5f7" stroke="#151515" stroke-width="0.55" stroke-opacity="0.8"/>
<polygon points="413.2,380.2 421.5,375.4 425.7,378.2 417.4,382.6" fill="#6ff9d0" stroke="#151515" stroke-width="0.55" stroke-opacity="0.8"/>
<polygon points="429.8,371.6 438.2,369.4 442.5,373.4 434.1,375.0" fill="#4eeb7a" stroke="#151515" stroke-width="0.55" stroke-opacity="0.8"/>
<polygon points="405.1,385.6 413.2,380.2 417.4,382.6 409.2,387.7" fill="#6ff6f8" stroke="#151515" stroke-width="0.55" stroke-opacity="0.8"/>
<polygon points="421.5,375.4 429.8,371.6 434.1,375.0 425.7,378.2" fill="#67f6a8" stroke="#151515" stroke-width="0.55" stroke-opacity="0.8"/>
<polygon points="434.1,375.0 442.5,373.4 438.3,378.4" fill="#38df62" stroke="#151515" stroke-width="0.55" stroke-opacity="0.8"/>
<polygon points="401.1,393.0 409.2,387.7 413.3,389.7 405.2,394.7" fill="#63d9f4" stroke="#151515" stroke-width="0.55" stroke-opacity="0.8"/>
<polygon points="409.2,387.7 417.4,382.6 421.5,385.0 413.3,389.7" fill="#68f6e4" stroke="#151515" stroke-width="0.55" stroke-opacity="0.8"/>
<polygon points="417.4,382.6 425.7,378.2 429.9,381.1 421.5,385.0" fill="#67f6bb" stroke="#151515" stroke-width="0.55" stroke-opacity="0.8"/>
<polygon points="425.7,378.2 434.1,375.0 438.3,378.4 429.9,381.1" fill="#5bf191" stroke="#151515" stroke-width="0.55" stroke-opacity="0.8"/>
<polygon points="429.9,381.1 438.3,378.4 434.1,384.3" fill="#55ee86" stroke="#151515" stroke-width="0.55" stroke-opacity="0.8"/>
<polygon points="405.2,394.7 413.3,389.7 417.4,392.0 409.2,396.7" fill="#64f1f5" stroke="#151515" stroke-width="0.55" stroke-opacity="0.8"/>
<polygon points="413.3,389.7 421.5,385.0 425.7,387.7 417.4,392.0" fill="#6af7d1" stroke="#151515" stroke-width="0.55" stroke-opacity="0.8"/>
<polygon points="421.5,385.0 429.9,381.1 434.1,384.3 425.7,387.7" fill="#67f6ab" stroke="#151515" stroke-width="0.55" stroke-opacity="0.8"/>
<polygon points="425.7,387.7 434.1,384.3 429.9,391.1" fill="#6ff8ab" stroke="#151515" stroke-width="0.55" stroke-opacity="0.8"/>
<polygon points="409.2,396.7 417.4,392.0 421.6,394.9 413.3,399.2" fill="#6ff9ea" stroke="#151515" stroke-width="0.55" stroke-opacity="0.8"/>
<polygon points="417.4,392.0 425.7,387.7 429.9,391.1 421.6,394.9" fill="#75fac8" stroke="#151515" stroke-width="0.55" stroke-opacity="0.8"/>
<polygon points="421.6,394.9 429.9,391.1 425.8,398.9" fill="#87ffd0" stroke="#151515" stroke-width="0.55" stroke-opacity="0.8"/>
<polygon points="413.3,399.2 421.6,394.9 425.8,398.9 417.5,402.7" fill="#85ffe8" stroke="#151515" stroke-width="0.55" stroke-opacity="0.8"/>
<polygon points="417.5,402.7 425.8,398.9 421.6,407.8" fill="#9cfff3" stroke="#151515" stroke-width="0.55" stroke-opacity="0.8"/>
<line x1="421.6" y1="451.3" x2="421.7" y2="350.4" stroke="#bbb" stroke-width="0.5" stroke-opacity="0.7"/>
<ellipse cx="502.9" cy="318.7" rx="2.2" ry="1.9" fill="#c80000" stroke="#700" stroke-width="0.4"/>
<ellipse cx="336.1" cy="288.0" rx="2.2" ry="1.9" fill="#c80000" stroke="#700" stroke-width="0.4"/>
<ellipse cx="421.6" cy="407.8" rx="2.2" ry="1.9" fill="#c80000" stroke="#700" stroke-width="0.4"/>
<ellipse cx="450.0" cy="271.5" rx="2.2" ry="1.9" fill="#c80000" stroke="#700" stroke-width="0.4"/>
<ellipse cx="421.3" cy="324.1" rx="2.2" ry="1.9" fill="#c80000" stroke="#700" stroke-width="0.4"/>
<ellipse cx="379.7" cy="323.7" rx="2.2" ry="1.9" fill="#c80000" stroke="#700" stroke-width="0.4"/>
<ellipse cx="475.8" cy="350.2" rx="2.2" ry="1.9" fill="#c80000" stroke="#700" stroke-width="0.4"/>
<ellipse cx="394.5" cy="389.7" rx="2.2" ry="1.9" fill="#c80000" stroke="#700" stroke-width="0.4"/>
<ellipse cx="363.8" cy="352.8" rx="2.2" ry="1.9" fill="#f4d8d8" stroke="#b08080" stroke-width="0.4"/>
<ellipse cx="450.9" cy="362.9" rx="2.2" ry="1.9" fill="#f4d8d8" stroke="#b08080" stroke-width="0.4"/>
<ellipse cx="335.5" cy="291.4" rx="2.2" ry="1.9" fill="#f4d8d8" stroke="#b08080" stroke-width="0.4"/>
<text x="314.1" y="361.2" class="tc" style="font-size:8.4px" text-anchor="middle" textLength="26.4" lengthAdjust="spacingAndGlyphs">B (0.8)</text>
<text x="509" y="355" class="tc" style="font-size:7.2px" text-anchor="middle" textLength="20.7" lengthAdjust="spacingAndGlyphs">A (0.8)</text>
<text x="353.7" y="417.8" class="tc" style="font-size:8.6px" text-anchor="middle" textLength="27.8" lengthAdjust="spacingAndGlyphs">A (0.1)</text>
<text x="489" y="417.8" class="tc" style="font-size:8.6px" text-anchor="middle" textLength="26.8" lengthAdjust="spacingAndGlyphs">B (0.1)</text>
<text x="413.8" y="464.2" class="tc" style="font-size:8.6px" text-anchor="middle" textLength="26.8" lengthAdjust="spacingAndGlyphs">C (0.8)</text>
<text transform="translate(300.2,314) rotate(-90)" class="tc" style="font-size:8.2px" text-anchor="middle" textLength="30.1" lengthAdjust="spacingAndGlyphs">TPC (%)</text>
<line x1="453.5" y1="256.9" x2="451" y2="270" stroke="#555" stroke-width="0.6"/>
<rect x="438.2" y="251.4" width="16.8" height="5.5" fill="#fff" stroke="#666" stroke-width="0.55"/>
<text x="446.6" y="255.4" class="lbl" style="font-size:3.4px" text-anchor="middle">152.653</text>
</svg></body></html>
